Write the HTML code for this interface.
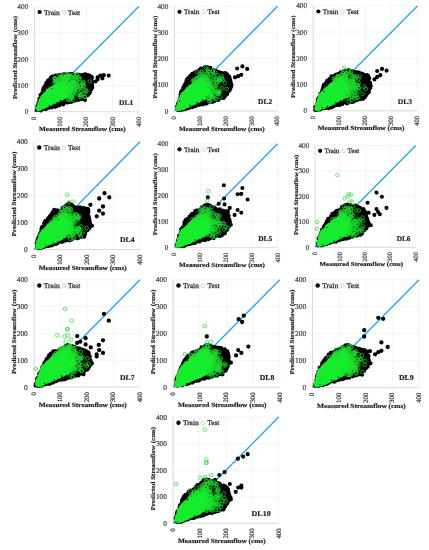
<!DOCTYPE html>
<html lang="en"><head><meta charset="utf-8"><title>Predicted vs measured streamflow</title>
<style>html,body{margin:0;padding:0;background:#fff}svg{display:block;filter:blur(.4px)}text{font-family:"Liberation Serif",serif;text-rendering:geometricPrecision}</style></head>
<body>
<svg width="429" height="550" viewBox="0 0 429 550">
<rect width="429" height="550" fill="#fff"/>
<g>
<marker id="m1" markerWidth="6" markerHeight="6" refX="3" refY="3" markerUnits="userSpaceOnUse"><circle cx="3" cy="3" r="1.78" fill="none" stroke="#1fdc30" stroke-width=".7"/></marker>
<path d="M60.5 6.4V111.7M34.4 85.4H138.7M86.5 6.4V111.7M34.4 59.1H138.7M112.6 6.4V111.7M34.4 32.7H138.7M138.7 6.4V111.7M34.4 6.4H138.7" stroke="#efefef" stroke-width=".7" fill="none"/>
<path d="M34.4 6.4V111.7H138.7" stroke="#cfcfcf" stroke-width=".8" fill="none"/>
<path d="M34.4 111.7L138.7 6.4" stroke="#27abe8" stroke-width="1.4" fill="none"/>
<path d="M37.2 109.8L42.3 109.4L56.7 105.3L71.4 100.6L82.6 98.6L88.3 92.9L91.4 87.3L91.1 77.3L88.2 75.4L72 75L61.7 75.4L52.9 77.1L48.3 81.2L44.9 87.5L41.2 96.4Z" fill="#000"/>
<path d="M36.9 109.9h0M38.2 109.2h0M38.7 108.4h0M38.4 108.5h0M40.7 108.5h0M40.7 110.4h0M40.9 110.4h0M42.2 108.8h0M41.1 108.8h0M42.1 109.2h0M43 109h0M42.5 108.1h0M44.2 108.2h0M44.7 108h0M45.9 107.7h0M45.9 109h0M46 109.1h0M46.5 108.5h0M47.2 106.7h0M48.6 107.7h0M48.2 107.8h0M49.2 107.1h0M50.7 107h0M49.1 107.4h0M51.7 107.5h0M50.6 107.1h0M51.2 105.8h0M50.9 107h0M51.8 106h0M52.3 105.9h0M54.5 106.6h0M53.8 105.5h0M55.5 106.7h0M54.3 104.9h0M55.6 105.6h0M55 105h0M56.9 106.1h0M57.4 105.1h0M56.9 105.6h0M59.3 105.2h0M58.6 103.5h0M58.4 103.2h0M59 103.7h0M59 103.1h0M60.4 102.7h0M61.9 102.7h0M61.5 103.1h0M63.1 104.4h0M62.9 102.1h0M62.9 102.4h0M63.4 101.6h0M64.8 101.7h0M64 102.5h0M66.7 102.6h0M65.7 101.4h0M66.8 102.5h0M66.4 102.5h0M68.7 102.2h0M68.9 100.8h0M68.4 100.2h0M68.5 100.6h0M70.9 100.8h0M71.6 101.8h0M70.1 100h0M70.4 100.8h0M72.8 100.3h0M73.1 99.3h0M73.9 100.8h0M73.5 99.3h0M73.7 100.6h0M74.5 99.6h0M75.8 99h0M74.6 100.6h0M75.4 100.3h0M77.2 99.1h0M76.3 98.2h0M78.3 99.3h0M78.3 100h0M78.3 98.5h0M78.6 99.2h0M79.5 98.1h0M80.2 98.6h0M81.9 98.5h0M81.7 98.6h0M80.9 98.4h0M81.2 99.1h0M82.7 98.6h0M82.9 97.6h0M84.3 96.3h0M83.5 96.3h0M84.5 96.5h0M85.9 95.8h0M85.2 95.7h0M85.5 95.3h0M87 95.4h0M87.5 93.8h0M87.8 94.9h0M86.1 93.8h0M86.7 92.6h0M88.6 93.8h0M88.6 93.1h0M89.3 93.4h0M89.7 91.5h0M90.1 91.9h0M89 90.9h0M88.8 89.9h0M88.8 89.8h0M89 88.9h0M90.4 87.7h0M91.4 89.2h0M90.2 87h0M90.7 86.4h0M92.2 87.6h0M90.4 87.4h0M91.6 84.8h0M91.6 85.3h0M92.2 85.2h0M90.2 84.8h0M91.9 83.7h0M91.2 84.1h0M90.2 82.7h0M90.2 81.3h0M90.3 81.2h0M91.6 80.5h0M90.2 80h0M90.4 78.9h0M91.1 78.4h0M91.9 77.8h0M90.7 78h0M90.6 77.5h0M91.6 76.8h0M90.5 77.1h0M89.4 75.6h0M88.4 77h0M88.1 75.2h0M89 76h0M87.4 75.1h0M86.5 75.4h0M88 76.6h0M85.6 76.6h0M85.4 74.4h0M85.1 75.5h0M84.8 74.4h0M83.2 75.3h0M82.7 75h0M83.3 75.5h0M82.6 75.9h0M81.4 75h0M80.3 75.9h0M79.7 76.2h0M80.3 75.9h0M78.7 75.4h0M79.9 76.1h0M78.6 76.2h0M78.4 74.7h0M76.9 75h0M78 75.4h0M76.7 75.7h0M74.8 76h0M75.2 75.3h0M73.7 75.8h0M73.4 74.7h0M72.9 75.8h0M72.9 74.9h0M73.1 75.8h0M72.4 74.2h0M71.2 75.7h0M71.3 74.1h0M70.2 75.6h0M70.2 74.8h0M69.3 75.2h0M70 74.6h0M69 74.2h0M68.5 76.4h0M66.7 74.7h0M65.8 75.6h0M66.4 76.4h0M66.5 75.4h0M65.3 74.8h0M64.2 74.4h0M64.2 75.4h0M62.7 75.2h0M63.7 74.4h0M63 74.7h0M62 76.5h0M61.1 75.4h0M60.7 75.5h0M59.7 74.8h0M60.6 75.5h0M58.3 75.6h0M57.9 75.9h0M58.7 77.1h0M58.4 77.5h0M57.5 75.5h0M56.2 77.2h0M55.4 75.7h0M54.3 76.8h0M54.5 77.5h0M53.5 77.5h0M54 76.9h0M52.7 76.6h0M52.6 77h0M53.4 77.9h0M51.4 77.2h0M50.7 77.9h0M51.4 79.8h0M50.4 79.2h0M50 79.3h0M49.6 80.9h0M49.7 80.6h0M48.3 80.3h0M48.6 80.9h0M49 82.6h0M47.2 82.2h0M47.7 82.9h0M47.5 83.7h0M48.1 84.7h0M46.2 83h0M47.2 85.4h0M46.9 85.6h0M46.4 84.3h0M45.4 86.9h0M45.3 85.5h0M45.9 87.1h0M44.4 87.1h0M44.8 87.2h0M43.7 87.8h0M45.7 89.1h0M44.3 88.8h0M45.3 90.1h0M42.9 90.2h0M43.6 90.3h0M44.5 90.7h0M43.1 91.3h0M42.4 93h0M42.9 92.2h0M42.2 94.2h0M42 94.2h0M43.4 94.2h0M41.5 94.4h0M42.9 94.5h0M41.1 96.8h0M40.5 95.1h0M42.3 97.6h0M42.3 98.4h0M40.3 98.7h0M39.8 98.9h0M40.5 98.4h0M39.5 98.7h0M41.5 99h0M39.5 100.4h0M40.8 101h0M40 101h0M39.1 101.9h0M38.5 102.5h0M40.1 102.2h0M38.4 104.3h0M39.8 104.9h0M38.6 105.6h0M38.3 105.7h0M38.3 104.4h0M39.5 106.6h0M37.3 106.3h0M39.3 108.2h0M37.5 107.5h0M38.9 107.5h0M38.3 109.7h0M37.8 109h0M97.6 77.3h0M100.3 75.6h0M102.4 78.3h0M103.8 75.2h0M108.7 75.6h0M95.5 81.5h0M97.6 79.4h0M91.9 87.8h0M85 99.9h0" stroke="#000" stroke-width="4.2" stroke-linecap="round" fill="none"/>
<path d="M81.1 93.9L82.9 87.5L78 79.5L71.5 74.8L62.3 75.7L53.2 86.5L66.8 100.2L71.3 98.8Z" fill="#16ec2c" fill-opacity="0.1"/>
<path d="M79.7 89.4L79.8 86.7L78.9 84.1L75.1 77.4L71.5 74.8L62.3 75.7L53.2 86.5L66.8 100.2L71.3 98.8L78.4 95.3Z" fill="#16ec2c" fill-opacity="0.1"/>
<path d="M75.4 96.7L77.3 88.9L77.3 87L76.7 85.3L72.9 78.6L69.9 75L62.3 75.7L53.2 86.5L66.8 100.2L71.3 98.8Z" fill="#16ec2c" fill-opacity="0.1"/>
<path d="M68.7 99.4L72.3 97L72.9 96.3L74.9 87.4L70.7 79.9L67.5 76L65.6 75.4L60.5 77.9L53.2 86.5L66.8 100.2Z" fill="#16ec2c" fill-opacity="0.1"/>
<path d="M37.9 109.2L39.2 108.8L58.5 99.9L66.6 95.6L69 93.9L70.4 88.1L67.2 82.5L65.4 80.3L62 82.1L55.6 86L47.6 91.7L41.5 98.4Z" fill="#16ec2c"/>
<path d="M38.1 109.3h0M38.5 109.1h0M39.1 108h0M40.4 108.7h0M42.1 107.4h0M41.1 107.6h0M42.7 106.7h0M43.4 107h0M44.6 106.6h0M44.8 106h0M45.3 106h0M45.6 105.2h0M47 105.3h0M47.2 105.4h0M47.8 104.8h0M49.6 103.6h0M49.9 104.2h0M50 103.1h0M50.3 103.9h0M52.2 102.7h0M52.6 102.1h0M53.8 101.7h0M54 101.6h0M54 101.3h0M55.1 101.6h0M55.1 100.9h0M56.3 100.4h0M57.4 100.5h0M57.2 100.1h0M58.9 99.2h0M59.4 99.4h0M59.7 99.6h0M60.7 98.5h0M61.8 98.9h0M61.6 98.2h0M62 98.1h0M63.8 97.1h0M64.3 96.2h0M64.5 96.8h0M65.2 96.1h0M66.1 95.3h0M66.7 95.9h0M67.2 95.4h0M68 93.8h0M69.5 93.8h0M69.5 93.6h0M69.4 92.7h0M69.7 91.8h0M70 91.6h0M69.3 90.5h0M69.8 89.2h0M70.3 89.5h0M70.2 88.8h0M70.5 87.3h0M69.6 86.9h0M69.1 86.3h0M69 85.4h0M67.8 85h0M67.7 84.4h0M67.5 82.9h0M66.8 82.3h0M66.3 82.1h0M65.7 81.7h0M66.3 81.5h0M64.8 80.5h0M65.2 80.3h0M64.3 81.6h0M62.7 82.2h0M63.1 82.4h0M62.5 82.6h0M61.4 82.8h0M61.3 82.6h0M59.3 83.6h0M58.7 83.7h0M58.4 83.7h0M57.8 85h0M57.7 84.7h0M56 85.6h0M55.7 86.4h0M55.4 86.8h0M55.6 86.7h0M54.5 86.8h0M53.3 87.7h0M52.6 87.8h0M51.5 89h0M51.9 89.4h0M51.1 89.2h0M50.1 89.2h0M49.6 90.4h0M48.4 90.6h0M47.8 90.7h0M47.5 91.4h0M47.6 92.2h0M47.1 92.6h0M47 92.8h0M45.4 93.9h0M45.4 94.6h0M44.3 95.1h0M44 95.8h0M44.2 96.4h0M43.8 96.1h0M42.5 97h0M42.7 97.1h0M42.1 98.1h0M41.5 99h0M41.4 99.6h0M40.6 100h0M40.8 101.9h0M40.8 102h0M40.3 102.7h0M39.4 103h0M39.4 104.2h0M39.6 105.4h0M39.2 105.5h0M38.8 106.4h0M39.1 106.9h0M37.7 107.9h0M38.5 109h0" stroke="#16ec2c" stroke-width="4.2" stroke-linecap="round" fill="none"/>
<path d="M81.1 91.7h0M49.4 105.6h0M76.3 88.3h0M82.3 89.3h0M69.1 95.5h0M81.2 86.6h0M80.4 85.3h0M79.1 91.3h0M80.1 88.4h0M78.2 86.3h0M81.9 86.7h0M73.8 95.5h0M78.9 92.5h0M70.6 83.8h0M81.7 87h0M71.6 86.3h0M77.2 95.8h0M77.8 93.1h0M81.9 90.7h0M80.3 91.4h0M77.6 88h0M80.8 91.1h0M69.3 78h0M75.3 91.4h0M76.3 80.3h0M51.7 88.5h0M61.5 77.8h0M75.3 96.3h0M60.6 100.5h0M69.3 98.5h0M75.4 84.9h0M74 83.9h0M69.1 98.7h0M72.9 95.2h0M57 102.8h0M67.2 75.9h0M78.3 94.9h0M73 93.1h0M70.1 98.3h0M76.4 78.4h0M73 93h0M72.7 80.1h0M76 90h0M74.3 79.3h0M79.6 84.8h0M69.2 80.8h0M75.5 83.3h0M77.4 86.3h0M73.6 95h0M77.2 81.7h0M73.5 83.2h0M70.4 76.5h0M73.9 81.7h0M71 77.2h0M72 83.9h0M71 84.7h0" stroke="#031c05" stroke-opacity=".8" stroke-width="1.5" stroke-linecap="round" fill="none"/>
<path d="M54.9 78.6 71.7 84.2 76.7 87.4 84.6 97.1 63.9 77.3 71.5 86.9 80 95.6 65.3 79.3 77.7 90 72.1 77.2 75.3 92.5 61.8 78.6 78.6 89.4 72.3 90.7 71.5 76.9 71.6 82.8 66.5 79.3 55.3 83.4 81.7 88.3 67.6 81.8 66.8 77.9 77 84 73.1 82.8 80.2 86.5 63.6 75.3 72 97.8 71.3 86.2 81.1 85.9 70.8 97.4 69.6 99.5 73.8 90.8 80.8 94.9 63.2 75.4 71.6 89.3 80.7 95.1 69.9 85.1 82 84.1 68.2 83.7 74.4 91.1 81.1 90.9 69.2 80.4 74 88.3 74.4 84.7 62.9 79.6 67.1 78.7 83.9 86.1 73.9 81.3 54.6 78.5 83.5 93.5 68.9 80.9 85.4 92.2 64.9 77.8 75.7 80.6 69.8 95.5 76.7 74.8 54.5 82.4 71.8 87.2 66 78.8 70.4 95.2 70.6 91.3 80 79.2 85.8 90.2 77.8 77.3 77.1 84.4 74.9 88.2 65.5 76.9 64.7 77.4 59.3 79.1 71.6 96.5 79.2 77.2 76.8 81.7 83.1 86.7 73.6 86.3 76.1 76.7 61.2 78.2 76.7 84 73.6 86.7 73.3 100.2 76.5 74.6 84.8 96.7 83.3 84 58.8 80.9 74 82.3 69.8 91 55.8 81.1 60.9 77.5 60.1 80.4 73 82.8 83.5 82.4 64 79.2 68.8 76.2 60.4 80.5 73.5 93.1 55.1 80.7 70.4 84.6 72.6 84.7 60.9 76.4 69.2 76.2 69.5 81.3 74.3 83 68.8 77.5 62.6 79.2 70.5 76 69.2 74.8 71.8 97.7 55.1 78.3 68.9 76.2 74.5 86.2 71.4 86.1 69.7 83.1 77.2 85.9 69.2 94.6 70 85.9 56.1 78.9 74.7 76.6 59.9 77.1 64 77.4 73 94.2 56.8 82.4 70.6 99.4 71.6 94.2 70.6 83.4 82.4 82.3 68.1 75.3 76.8 83.7 76.4 87.5 78.9 95 59.3 75.1 67.3 75.1 74.3 84.5 74.9 79.1 72.3 81.7 73.2 75 67.5 76.8 73.6 79.4 66.1 77.6 68.1 99.8 78.7 79 89.8 81.5 86.6 90.9 80.3 97.2" fill="none" stroke="none" marker-start="url(#m1)" marker-mid="url(#m1)" marker-end="url(#m1)"/>
<text x="28.3" y="114.2" font-size="7.3" fill="#444" stroke="#444" stroke-width=".22" text-anchor="end">0</text>
<text x="28.3" y="87.9" font-size="7.3" fill="#444" stroke="#444" stroke-width=".22" text-anchor="end">100</text>
<text x="28.3" y="61.6" font-size="7.3" fill="#444" stroke="#444" stroke-width=".22" text-anchor="end">200</text>
<text x="28.3" y="35.2" font-size="7.3" fill="#444" stroke="#444" stroke-width=".22" text-anchor="end">300</text>
<text x="28.3" y="8.9" font-size="7.3" fill="#444" stroke="#444" stroke-width=".22" text-anchor="end">400</text>
<text transform="translate(36.3 116.7) rotate(-90)" font-size="6.7" fill="#444" stroke="#444" stroke-width=".22" text-anchor="end">0</text>
<text transform="translate(62.4 116.7) rotate(-90)" font-size="6.7" fill="#444" stroke="#444" stroke-width=".22" text-anchor="end">100</text>
<text transform="translate(88.4 116.7) rotate(-90)" font-size="6.7" fill="#444" stroke="#444" stroke-width=".22" text-anchor="end">200</text>
<text transform="translate(114.5 116.7) rotate(-90)" font-size="6.7" fill="#444" stroke="#444" stroke-width=".22" text-anchor="end">300</text>
<text transform="translate(140.6 116.7) rotate(-90)" font-size="6.7" fill="#444" stroke="#444" stroke-width=".22" text-anchor="end">400</text>
<text x="39" y="131.3" font-size="6.3" font-weight="bold" fill="#222" stroke="#222" stroke-width=".18" textLength="86.7" lengthAdjust="spacingAndGlyphs">Measured Streamflow (cms)</text>
<text transform="translate(16.5 99) rotate(-90)" font-size="5.9" font-weight="bold" fill="#222" stroke="#222" stroke-width=".18" textLength="83" lengthAdjust="spacingAndGlyphs">Predicted Streamflow (cms)</text>
<text x="133.3" y="104.7" font-size="7.3" font-weight="bold" fill="#222" stroke="#222" stroke-width=".18" text-anchor="end" textLength="14.3" lengthAdjust="spacingAndGlyphs">DL1</text>
<circle cx="39.6" cy="12" r="2.1" fill="#000"/>
<text x="44" y="14.6" font-size="7" fill="#262626" stroke="#262626" stroke-width=".25" textLength="15.6" lengthAdjust="spacingAndGlyphs">Train</text>
<circle cx="63.8" cy="12.2" r="1.9" fill="none" stroke="#9deaa6" stroke-width=".8"/>
<text x="68" y="14.6" font-size="7" fill="#262626" stroke="#262626" stroke-width=".25" textLength="12" lengthAdjust="spacingAndGlyphs">Test</text>
</g>
<g>
<marker id="m2" markerWidth="6" markerHeight="6" refX="3" refY="3" markerUnits="userSpaceOnUse"><circle cx="3" cy="3" r="1.76" fill="none" stroke="#1fdc30" stroke-width=".7"/></marker>
<path d="M200.2 6.2V111.1M174.4 84.9H277.5M225.9 6.2V111.1M174.4 58.6H277.5M251.7 6.2V111.1M174.4 32.4H277.5M277.5 6.2V111.1M174.4 6.2H277.5" stroke="#efefef" stroke-width=".7" fill="none"/>
<path d="M174.4 6.2V111.1H277.5" stroke="#cfcfcf" stroke-width=".8" fill="none"/>
<path d="M174.4 111.1L277.5 6.2" stroke="#27abe8" stroke-width="1.4" fill="none"/>
<path d="M176.9 109.3L180.3 109.4L190.5 106.9L201.1 103.8L211.5 101.7L222.5 97.7L227.2 92.9L230.9 86.4L229 77.8L228.3 75.5L224 73.8L214.4 71.7L208.3 67.7L204.2 68.2L199.2 71.2L193.1 74.2L188.3 79L183.3 89.1L179.1 101.5Z" fill="#000"/>
<path d="M177.9 110h0M178.1 110.1h0M178.1 109h0M179.7 108.3h0M180.5 108.2h0M180 108.6h0M180.5 110.2h0M181.8 108.6h0M182.1 108.5h0M181.9 109.5h0M183.2 107.4h0M183.7 109.3h0M183.7 109h0M184 107.8h0M184.5 107.8h0M184.6 108.9h0M186.3 108.7h0M186.1 108.6h0M188.3 108h0M188.4 106.8h0M187.9 108h0M188.5 106.8h0M189 107.8h0M190.8 106h0M191 107.1h0M189.8 107.5h0M191.2 106.1h0M192.6 107.1h0M191.8 105.6h0M192.2 105h0M192.9 104.8h0M194.2 105.1h0M194.2 106.2h0M194.7 105.6h0M195.6 106.1h0M195.7 105.9h0M195.6 105.1h0M197.2 104.7h0M198.4 105h0M197.6 104.2h0M199.3 103.3h0M198.3 104.3h0M200.1 103.8h0M200 104.6h0M200.5 103h0M202 102.8h0M203.1 103.2h0M202.7 104.3h0M202.2 102.8h0M202.8 103.2h0M204.3 102.2h0M205.8 103h0M204.4 103.7h0M206.1 103.5h0M206.9 101.9h0M206.3 103.4h0M208.4 102.3h0M208 101.4h0M208.9 101.9h0M208.2 101.5h0M209.2 101.9h0M208.4 101.5h0M211 101.1h0M210.8 100.9h0M212.4 100.8h0M212.4 101.9h0M213 100.6h0M214.1 99.8h0M213.5 99.7h0M214.4 101h0M214.2 100.8h0M214.8 100.7h0M214.7 99.3h0M216.2 99.4h0M215.7 98.7h0M216.4 99.5h0M217.3 99.2h0M218.3 100h0M217.8 99.1h0M218.1 97.8h0M220.8 98.2h0M219.8 98h0M220.5 97.3h0M221.5 96.7h0M222.3 97.4h0M223.2 97.3h0M222.1 97.4h0M223.6 97.9h0M222.9 97.4h0M224.1 96.4h0M225.1 95.9h0M223.7 94.5h0M225.7 93.7h0M225.2 94.6h0M226.5 93.9h0M227.1 94.1h0M226 93.2h0M227.5 92.4h0M226.9 92.4h0M227.6 91.4h0M228.4 91h0M226.9 90.4h0M228.8 90.1h0M227.4 89.8h0M229.4 90.6h0M229.3 90.1h0M230.2 88.9h0M230.1 89.3h0M228.9 88.8h0M230.4 88.4h0M229.3 86.3h0M231 87h0M229.9 85.4h0M230.9 86.4h0M231.5 84.8h0M229.7 83.8h0M231.2 84h0M229.3 82.6h0M230.5 81.8h0M230.2 81.1h0M230.4 81.9h0M230.4 81.4h0M229.2 81.7h0M230.2 80h0M228.5 79.5h0M227.9 79.6h0M229 77.2h0M228.6 78.2h0M229.2 77.2h0M229.5 77.7h0M227.9 76h0M229.1 76.7h0M228.4 76.6h0M226.8 75.9h0M227.1 74.4h0M226 74.4h0M224.6 75.7h0M224.3 75.1h0M225.6 74.5h0M225.3 73.2h0M222.7 73.4h0M224.2 73.8h0M222 74.2h0M221.1 73.6h0M220.8 73.8h0M220.9 74.4h0M221.4 73h0M220.7 73.7h0M220.3 72.8h0M218.6 72h0M217.4 73.2h0M219.2 72.8h0M216.3 72.8h0M216.3 73.2h0M216.5 71.4h0M216.4 71.1h0M215.1 72.6h0M214.2 72.9h0M213.5 72.6h0M213.1 71.6h0M212.5 72.2h0M213.4 70.3h0M211.5 71.4h0M212.9 70.9h0M211.4 70.8h0M210.1 70.6h0M210.8 69.8h0M210.1 69.9h0M210.4 67.8h0M209.2 68.2h0M208 68.2h0M207.7 67.6h0M208.3 68.2h0M208.2 67.7h0M207.5 67.3h0M207.1 67.9h0M205.1 67.1h0M204.3 67.8h0M204.5 69.4h0M203.5 69.7h0M203.5 69.7h0M202.6 69.4h0M203.7 68.8h0M200.9 68.7h0M200.9 70h0M202.1 70.5h0M201.6 71.7h0M200.6 69.7h0M199.8 72h0M199.5 70.2h0M199.7 71.8h0M197 71.3h0M198.7 71.1h0M196.6 73.3h0M196.4 73.7h0M196.8 71.8h0M196.8 72.3h0M194.7 72.6h0M195.3 74.6h0M195.3 74.2h0M193 74.6h0M193.1 75.2h0M192.3 73.8h0M192.9 75.6h0M192.4 75.4h0M191.6 75.9h0M190.6 75.8h0M191.8 75.9h0M190 76.1h0M190 76.9h0M189.2 78.2h0M189.3 78.2h0M189.2 77.9h0M188 78.3h0M188.9 78.9h0M188.2 80.7h0M187.2 79.7h0M188.7 81.2h0M186.7 80.2h0M188.1 81.9h0M187.3 81h0M186.3 81.8h0M186.9 83.3h0M186.7 83.4h0M185 85.2h0M185.2 84.2h0M184.6 85.4h0M184.7 85.3h0M184.3 86h0M184.6 85.9h0M184.7 88h0M183.2 87.8h0M183.3 88.5h0M184.5 88.1h0M184.2 89.2h0M183.4 88.5h0M183.6 90.4h0M181.9 91.3h0M181.9 90.9h0M182.9 91.9h0M183 91.8h0M181.8 93.9h0M181 92.2h0M182.8 94.1h0M182.7 94.5h0M181.4 94.9h0M180.5 94.7h0M182.4 95.6h0M181.7 97.3h0M182 97.2h0M180.8 96.9h0M180.5 97.5h0M180.5 98.5h0M179.8 98.7h0M179.9 99.8h0M180 99.2h0M180.1 101.2h0M179 101.9h0M179.1 101h0M179.7 102.7h0M179.6 101.8h0M178.6 102.6h0M179.4 104h0M178 104.6h0M178.8 105h0M177.8 104.2h0M177.1 106.6h0M178.4 107.3h0M177.2 106.5h0M178.4 107.6h0M177.2 107.2h0M177.9 109.2h0M178 108.8h0M237.1 68.5h0M242.4 66.4h0M247.2 68.9h0M241.3 74.8h0M238.2 76.2h0M235 77.3h0M230.8 87.3h0" stroke="#000" stroke-width="4.2" stroke-linecap="round" fill="none"/>
<path d="M222.5 87.4L222.4 86.3L218 78.3L210.9 71.3L207 68.9L193.7 84L192.2 85.1L207.3 100.5L214.4 97.8L221 94Z" fill="#16ec2c" fill-opacity="0.1"/>
<path d="M219.4 89.6L219.6 87.6L219.1 85.6L215 76.8L210.8 71.2L206.9 69.1L193.7 84L192.2 85.1L207.3 100.5L214.4 97.8L218.2 95.6Z" fill="#16ec2c" fill-opacity="0.1"/>
<path d="M215.3 97.2L217.1 88.7L216.8 86.4L212.9 78L209.5 73.4L207.6 71.9L206.1 71.5L204.8 71.5L193.7 84L192.2 85.1L207.3 100.5L214.4 97.8Z" fill="#16ec2c" fill-opacity="0.1"/>
<path d="M212.2 97.2L213.1 95.7L214.6 88.4L214.4 87.1L210.7 79.3L207.3 74.7L205.6 73.9L202.1 74.5L193.7 84L192.2 85.1L207.3 100.5L208.6 100Z" fill="#16ec2c" fill-opacity="0.1"/>
<path d="M180 109L198.3 101.1L204.9 97.4L209 94.2L210.2 88.3L207 81.6L204.7 78.5L201.5 79L192.2 85.4L187.3 89.9L182.1 95.1L181 97.3L177.4 108.9Z" fill="#16ec2c"/>
<path d="M188.6 105.5h0M189 104.5h0M191.1 104h0M191.8 103.8h0M191.9 103.7h0M192.7 103.5h0M193.3 102.8h0M193.5 102.8h0M194.2 102.9h0M195.5 102.4h0M195.3 102.2h0M196.7 101.2h0M198.3 100.8h0M198.4 100.7h0M198.4 100.9h0M199.7 99.7h0M199.9 99.8h0M201.4 99h0M201.7 99.3h0M202.3 98.6h0M203.1 98.8h0M203.9 98h0M204.3 97.2h0M205.1 97.6h0M206 96.3h0M206.1 95.7h0M207 96.1h0M207.3 95h0M207.4 94.4h0M208.6 94.3h0M209.2 93.6h0M208.9 92.3h0M209.2 92.3h0M209.9 91.2h0M209.8 90.6h0M209.3 90.3h0M209.5 89.1h0M209.7 87.9h0M209.3 87h0M209 86.2h0M209.3 86.4h0M208.5 85h0M208.1 84.7h0M208.3 83.3h0M208.3 83.5h0M207.2 82.2h0M206.7 82.1h0M206.1 81.1h0M206.3 80.3h0M205.3 79.8h0M205.2 79.5h0M204.6 79h0M203.9 79.1h0M202.7 78.8h0M202.1 79.3h0M201.6 79.7h0M200.8 79.2h0M199.6 80.6h0M199.5 80.3h0M198.3 81.4h0M197.7 81.8h0M198 81.9h0M197.4 81.8h0M195.9 82.2h0M195.2 82.5h0M194.5 83.2h0M194.2 84.4h0M193.9 85.2h0M193.5 84.6h0M192.6 85.8h0M191.5 86.2h0M191.4 86.8h0M191.1 86.7h0M189.9 87.2h0M189 88.5h0M188.5 88.9h0M188.1 88.6h0M187.4 89.8h0M186.7 90.4h0M187 90.6h0M186.1 91.3h0M185.4 91.9h0M185.7 92.1h0M184.8 92.5h0M183.6 93.9h0M183.3 93.9h0M182.7 94.6h0M182.4 94.4h0M181.5 96.4h0M181.6 96.7h0M181.6 96.7h0M181.1 98.4h0M180.5 99.1h0M179.9 99.3h0M180.2 99.7h0M180.4 100.5h0M179.3 101.5h0M179.4 102.2h0M179.2 103.5h0M179.6 103.2h0M179.2 104.4h0M178.2 105.8h0M178.6 105.7h0M178.3 106.8h0M177.4 107.8h0M177.2 108.6h0M177.6 109.2h0M178.5 108.5h0M178.9 108.3h0M180 108.5h0M180.8 108.8h0M181.4 107.7h0M181.9 107.5h0M183.6 108h0M183.1 107.6h0M185 106.7h0M184.7 107.1h0M186 106.1h0M187.3 105.8h0M187.1 106.2h0M188.3 105.4h0" stroke="#16ec2c" stroke-width="4.2" stroke-linecap="round" fill="none"/>
<path d="M209.5 71.1h0M189.9 105.2h0M222.4 87h0M208.7 70.4h0M215.4 92.9h0M206.3 73.2h0M208.1 74h0M213.2 98h0M215.6 94h0M213.3 89.5h0M213.6 81.3h0M212.3 95.6h0M207.3 99.4h0M218.6 85.5h0M216.5 95.4h0M214.3 92.1h0M212.8 85.8h0M206.5 78.2h0M206.9 80.6h0M208.3 81.5h0M213 89.5h0M214.1 84.4h0M219 90.5h0M204.3 73.7h0M209.9 74.1h0M208.6 72.1h0M202.3 99.8h0M213.7 78.9h0M204.1 75.6h0M215.2 97.1h0M208 96.1h0M206.3 96.7h0M214.1 74.5h0M208.4 97.2h0M217.7 91.4h0M212.5 79.4h0M213.4 96.3h0M211.3 97.2h0M220 89.2h0M217.4 82.6h0M212.6 84.4h0M214.6 80.7h0M212.6 90.7h0M196.7 102.4h0M220.6 90.5h0M204.1 100.5h0M211.9 97.4h0M212.6 81.5h0M207.8 100h0M209.4 74.4h0M213.4 77.3h0M219.4 94.9h0M179.6 101h0M211 90.1h0M209.8 77.4h0M207.4 69.8h0M217.5 83.1h0M209.9 97h0M216 86.1h0M210.9 97.4h0M220.9 88.1h0M208.1 71.7h0M219.7 89.8h0" stroke="#031c05" stroke-opacity=".8" stroke-width="1.5" stroke-linecap="round" fill="none"/>
<path d="M211.1 94.5 201.9 71.7 216.1 98.9 212 95.6 216.8 82.5 219.1 78.3 198.8 77.2 208.8 98.6 203.5 74.2 203.4 76.2 216.5 82.8 210.5 74.6 212.4 97 213.6 73.5 207.7 75.4 224.8 82.8 211.2 93 218.9 80.2 220 92.4 196.6 79.2 210.5 80.8 210.9 87.5 221.8 76.2 207.6 78.3 219.3 79.7 205.5 97.6 196.9 79.1 211.8 87.6 213 79.7 199.3 77.1 205.6 67.7 213.5 97.1 217.5 94.2 200.5 76.3 209.3 95.5 213.7 90 216.5 79.5 219.5 80.1 209.4 98.9 192.6 81.3 215.1 91.3 223.3 79.8 200.5 79.6 218.3 93.1 217 93.3 222.1 78.3 217.7 75.3 208.5 71.7 215.1 88.2 209.3 101 212.8 92.5 218.7 91.8 209 82.4 201.3 72.3 207.9 80.5 210.9 94.8 207.2 73.5 204.6 77.3 196.7 78.1 216 85.5 212.7 70.9 218.5 81.3 214.3 78.6 211.2 95.6 209.7 101.3 207.9 71.1 194.3 80.4 218.9 91 221.3 79.6 214.5 86.2 207.8 80.4 213.8 91.3 214.7 98.3 201.6 78.8 222.2 88 193.7 79.6 208.5 76.5 205.6 78.2 200.1 74.2 209 85.3 218.6 93 211.1 86.4 213.6 82.6 210.1 85 207 80.7 211.3 99.4 206.1 77.7 215.4 72.2 194.3 81.6 204.6 76.4 217.6 91.8 207.6 69.2 217.2 93.8 197.5 78 212.9 71.7 210.6 96.4 210.7 82.9 213.8 76.4 211.7 89.6 200.1 76.3 197.1 71.8 202.4 77.5 205.9 79.8 226.6 88.8 220.3 97.2" fill="none" stroke="none" marker-start="url(#m2)" marker-mid="url(#m2)" marker-end="url(#m2)"/>
<text x="168.3" y="113.6" font-size="7.2" fill="#444" stroke="#444" stroke-width=".22" text-anchor="end">0</text>
<text x="168.3" y="87.4" font-size="7.2" fill="#444" stroke="#444" stroke-width=".22" text-anchor="end">100</text>
<text x="168.3" y="61.1" font-size="7.2" fill="#444" stroke="#444" stroke-width=".22" text-anchor="end">200</text>
<text x="168.3" y="34.9" font-size="7.2" fill="#444" stroke="#444" stroke-width=".22" text-anchor="end">300</text>
<text x="168.3" y="8.7" font-size="7.2" fill="#444" stroke="#444" stroke-width=".22" text-anchor="end">400</text>
<text transform="translate(176.3 116.1) rotate(-90)" font-size="6.6" fill="#444" stroke="#444" stroke-width=".22" text-anchor="end">0</text>
<text transform="translate(202.1 116.1) rotate(-90)" font-size="6.6" fill="#444" stroke="#444" stroke-width=".22" text-anchor="end">100</text>
<text transform="translate(227.8 116.1) rotate(-90)" font-size="6.6" fill="#444" stroke="#444" stroke-width=".22" text-anchor="end">200</text>
<text transform="translate(253.6 116.1) rotate(-90)" font-size="6.6" fill="#444" stroke="#444" stroke-width=".22" text-anchor="end">300</text>
<text transform="translate(279.4 116.1) rotate(-90)" font-size="6.6" fill="#444" stroke="#444" stroke-width=".22" text-anchor="end">400</text>
<text x="178.9" y="130.6" font-size="6.3" font-weight="bold" fill="#222" stroke="#222" stroke-width=".18" textLength="85.7" lengthAdjust="spacingAndGlyphs">Measured Streamflow (cms)</text>
<text transform="translate(156.7 98.4) rotate(-90)" font-size="5.9" font-weight="bold" fill="#222" stroke="#222" stroke-width=".18" textLength="82.7" lengthAdjust="spacingAndGlyphs">Predicted Streamflow (cms)</text>
<text x="272.2" y="104.1" font-size="7.2" font-weight="bold" fill="#222" stroke="#222" stroke-width=".18" text-anchor="end" textLength="14.1" lengthAdjust="spacingAndGlyphs">DL2</text>
<circle cx="179.5" cy="11.8" r="2.1" fill="#000"/>
<text x="183.9" y="14.4" font-size="6.9" fill="#262626" stroke="#262626" stroke-width=".25" textLength="15.4" lengthAdjust="spacingAndGlyphs">Train</text>
<circle cx="203.5" cy="12" r="1.8" fill="none" stroke="#9deaa6" stroke-width=".8"/>
<text x="207.6" y="14.4" font-size="6.9" fill="#262626" stroke="#262626" stroke-width=".25" textLength="11.9" lengthAdjust="spacingAndGlyphs">Test</text>
</g>
<g>
<marker id="m3" markerWidth="6" markerHeight="6" refX="3" refY="3" markerUnits="userSpaceOnUse"><circle cx="3" cy="3" r="1.78" fill="none" stroke="#1fdc30" stroke-width=".7"/></marker>
<path d="M339.2 5.9V110.8M313.2 84.6H417.4M365.3 5.9V110.8M313.2 58.4H417.4M391.3 5.9V110.8M313.2 32.1H417.4M417.4 5.9V110.8M313.2 5.9H417.4" stroke="#efefef" stroke-width=".7" fill="none"/>
<path d="M313.2 5.9V110.8H417.4" stroke="#cfcfcf" stroke-width=".8" fill="none"/>
<path d="M313.2 110.8L417.4 5.9" stroke="#27abe8" stroke-width="1.4" fill="none"/>
<path d="M315.7 109.1L319.3 109.4L329.5 106.9L340 103.8L353.6 100.6L363.4 97.7L368.2 91L370 86.5L369 79.7L368.2 76.5L365 74.9L347.8 70.8L343.2 71.7L338.1 74.4L331.1 77.4L326.3 83.2L321.2 92.3Z" fill="#000"/>
<path d="M315.3 109.9h0M317.5 110h0M318.5 109.3h0M318.2 108.4h0M318.8 109h0M318.9 108.6h0M320.2 109.4h0M320.9 108.8h0M320.4 108.5h0M322.1 108.2h0M321.1 107.4h0M322.9 108h0M323.5 107.9h0M324.1 107.3h0M323.8 107.5h0M324.3 108h0M323.7 108.2h0M325.9 107.4h0M324.9 106.7h0M326.3 107.6h0M326.8 106.2h0M328.3 108.1h0M328.1 107.1h0M329.3 107.3h0M329.7 107.7h0M330.1 106.3h0M331 107.5h0M330.5 106.4h0M330.3 106.3h0M332.2 105.7h0M332.8 105.6h0M333.7 105.4h0M333.2 106.4h0M333.1 105.2h0M333.6 106.3h0M335.3 104.9h0M334.8 105.2h0M336.7 105.1h0M335.3 104.1h0M337.1 103.8h0M336.9 104.5h0M338.1 104.7h0M337.6 104.4h0M339.6 104.9h0M340.2 103.1h0M339 104.3h0M340.4 103.4h0M340.4 103.8h0M340.6 102.6h0M341.9 102.5h0M342.4 104h0M342.6 102.1h0M343.4 102.2h0M345.2 101.6h0M343.6 102.1h0M345 102.1h0M347 103.3h0M346.7 101.2h0M347.9 102.8h0M346.5 102.8h0M348.7 100.7h0M347.5 102.1h0M348.8 100.3h0M350.8 101.6h0M349.6 102h0M350.6 100.4h0M351.3 100.8h0M352.1 102h0M353 100.5h0M353.4 101.7h0M353.9 101.2h0M355.1 100.4h0M353.1 100.3h0M353.6 101.2h0M356.3 98.8h0M356.5 100.1h0M356.5 98.6h0M357.7 99.3h0M358.2 99.2h0M357.9 99.6h0M358.3 99.5h0M359.4 98.5h0M360.8 99.2h0M359.7 98.3h0M359.6 98.4h0M360.3 99h0M362.8 98.5h0M362.9 97.6h0M363.3 98.6h0M362.7 97.5h0M363.3 97.1h0M365 97h0M365.3 95.3h0M364.3 95.9h0M365.4 94.9h0M364.9 95.5h0M365.8 95.6h0M364.6 95h0M366.4 94.3h0M366.3 94.1h0M367.2 93.5h0M366.8 92h0M367.1 92.7h0M368.7 92.2h0M368.3 90.4h0M369.1 90h0M367.8 89.3h0M369 89.1h0M368.1 87.7h0M369.1 87.7h0M368.8 87.3h0M369.1 87.8h0M369.4 85.7h0M369.9 86.4h0M369.8 86.7h0M370.7 85.8h0M370.5 85.7h0M368.3 84.4h0M369.6 84.5h0M370.1 82.9h0M368.2 81.8h0M369.2 83.2h0M368.6 81.4h0M368.7 81.3h0M367.9 80.8h0M368 78.7h0M367.7 80.3h0M367.8 78.5h0M367.6 78.2h0M369.2 78.2h0M368.4 77.2h0M368 76.4h0M367 76.1h0M368.1 75.8h0M366.5 75.3h0M366.9 75h0M365.2 75.6h0M364.2 75.1h0M365.2 75.5h0M363.7 74.5h0M364.6 75.6h0M362.7 74.5h0M362.7 75.6h0M362 73.7h0M360.9 74.1h0M361.7 74.2h0M360.8 74.5h0M359.5 74.1h0M360.7 74.2h0M358.6 72.6h0M359 72.5h0M358.5 73.3h0M357 74.2h0M356.2 73.1h0M356.1 73.6h0M356.3 72.2h0M355.3 72.9h0M355.6 72.5h0M355.1 72.6h0M354 72.6h0M351.8 71.8h0M353 71.5h0M351.4 71.3h0M351.3 71.8h0M351.3 71.2h0M349.6 70.8h0M349.2 71.4h0M350.1 72.3h0M347.9 72.3h0M348.8 71.8h0M348.6 70.2h0M348 72.1h0M346.3 71.3h0M345.7 70.8h0M345.2 70.6h0M344.4 71.3h0M344.7 71.6h0M343.9 71.3h0M343 73h0M342 72.9h0M343.3 72.4h0M342.9 72.4h0M341.4 74h0M340.5 73.6h0M340.8 72.3h0M340.6 72.9h0M338.8 73.8h0M340.1 73.8h0M338.9 74.3h0M338.1 74.8h0M338.3 74.5h0M337.7 75.4h0M337.2 76h0M336.8 74.6h0M335.8 74.8h0M335.6 75.4h0M333.9 76.2h0M335.1 75.9h0M333.9 76.8h0M333.8 77.4h0M331.5 76.3h0M331.2 77.5h0M331.4 78.1h0M331.6 77.7h0M331.9 79.1h0M329.5 79.5h0M329.4 79.1h0M330.5 79.6h0M330.5 80.8h0M330.1 80.9h0M329.5 81.6h0M327.3 80.8h0M327.6 80.7h0M326.9 81.8h0M328 81.4h0M325.9 83.2h0M325.9 83.5h0M326.6 82.9h0M326.8 84.3h0M325.5 85.3h0M325.6 84.8h0M324.1 84.5h0M324.8 85.6h0M323.7 85.4h0M325 86.3h0M323.3 86.9h0M324.5 87.9h0M324.7 88.6h0M322.7 89h0M324.2 88.1h0M324.1 89.3h0M322.8 89.4h0M322.1 91.2h0M322.5 90.6h0M322.8 90.9h0M321.9 93.2h0M321.9 92.3h0M321.9 92.2h0M320.5 94.3h0M320.6 93.5h0M321 95h0M321.4 94.7h0M321 95.3h0M319.6 97.5h0M321 97.7h0M319.4 97.3h0M320.3 97.6h0M318.7 98.5h0M318.5 98.1h0M319.3 99.4h0M319.6 99.9h0M317.7 100.1h0M317.8 101.4h0M318.6 100.9h0M319 102.8h0M319 102.4h0M318.4 102.7h0M317.8 104.2h0M318.5 104.2h0M317.1 104.3h0M317.7 104.8h0M317.9 104.7h0M318 105.1h0M316.4 106.1h0M316.5 107.1h0M315.3 106.9h0M316.7 107.8h0M315.9 109.1h0M377.2 71h0M382 68.9h0M386.6 70.6h0M380.3 75.2h0M377.2 76.9h0M374.5 79.4h0M370.3 87.8h0" stroke="#000" stroke-width="4.2" stroke-linecap="round" fill="none"/>
<path d="M361.6 89.9L361.7 86.2L357 78.4L350.1 72.5L345.2 70.8L335.7 81.6L331.2 84.8L347.2 100.9L353.3 98.8L360.1 94Z" fill="#16ec2c" fill-opacity="0.1"/>
<path d="M358.7 89.3L358.8 87.3L358.4 85.2L353.8 75.8L350.1 72.5L345.2 70.8L335.7 81.6L331.2 84.8L347.2 100.9L353.3 98.8L357.3 96Z" fill="#16ec2c" fill-opacity="0.1"/>
<path d="M352.9 98.8L354 97.8L354.6 96.4L356.3 88.4L356.2 86.5L351.8 77.3L348 72.4L346.7 71.6L344.9 71.1L335.7 81.6L331.2 84.8L347.2 100.9Z" fill="#16ec2c" fill-opacity="0.1"/>
<path d="M351.4 96.9L352.3 95.4L353.8 88.3L353.7 87L349.9 79L346.5 74.4L345 73.6L342.5 73.9L335.7 81.6L331.2 84.8L346.8 100.5Z" fill="#16ec2c" fill-opacity="0.1"/>
<path d="M318.3 108.9L337.3 100.7L344 97.1L348.2 93.9L349.4 88L346.2 81.3L343.8 78.2L340.5 78.7L331.1 85.1L326.2 89.6L321 94.8L320.4 95.9L316.2 108.8Z" fill="#16ec2c"/>
<path d="M318.3 108.7h0M319.1 108.7h0M319.6 107.8h0M320.5 107.5h0M321.4 107h0M322 107.4h0M322.7 106.9h0M323.8 106.9h0M323.8 105.8h0M325.5 106h0M325.6 105.8h0M327.1 104.8h0M327.4 105.4h0M328.3 104.1h0M328.6 104.5h0M328.9 103.7h0M330.6 104.1h0M330.3 103.7h0M331.7 103.1h0M331.7 102.4h0M333.2 102.8h0M334.1 102.6h0M334 102h0M335.4 101.2h0M335.7 101h0M336.4 100.5h0M337.7 100h0M337.9 99.7h0M338.5 99.9h0M339.3 99.4h0M339.9 98.9h0M341.3 99.1h0M341 98.2h0M342.4 97.7h0M342.5 97.7h0M343.3 97h0M344.2 96.6h0M344.8 96.2h0M345.9 96.1h0M346.2 95.1h0M347.1 94.8h0M347.1 94.3h0M348.3 93.8h0M348.4 92.6h0M348.9 92.6h0M348.7 91.5h0M349 91.3h0M348.6 90.3h0M348.8 89.9h0M349.4 88.8h0M348.9 88.2h0M348.9 86.7h0M347.9 86.9h0M348.1 85.4h0M347.1 84.6h0M347.7 84.3h0M347.6 83.4h0M346.3 83.5h0M346.4 81.6h0M345.7 82.2h0M345.7 81h0M344.8 80.3h0M345.2 79h0M343.9 78.8h0M343.4 78.8h0M343.5 78.8h0M341.4 78.7h0M341.4 78.8h0M341.1 78.8h0M340.1 79.1h0M339.8 79.9h0M338 80h0M337.4 80.6h0M337.3 80.8h0M337.3 80.8h0M336.1 82.1h0M336.3 82.4h0M334.2 83.1h0M334.5 83.3h0M334.1 83.5h0M333.2 83.6h0M331.8 85.1h0M331.4 84.9h0M331.1 84.9h0M330.5 86.3h0M329.5 86.4h0M329.7 86.8h0M328.8 87.9h0M327.9 88h0M328 88.5h0M326.9 89.1h0M326 89.4h0M325.8 90.9h0M324.9 90.6h0M324.7 91.2h0M323.7 92.6h0M323.5 92.6h0M323.4 92.5h0M322.5 93.2h0M322.2 94.8h0M321 94.4h0M320.9 96h0M320.6 96h0M319.8 96.5h0M319.7 97.2h0M320.2 98.4h0M319.5 98.3h0M319.1 99.8h0M318.7 100.6h0M318.4 101.5h0M318.3 102.2h0M318.7 102.6h0M318 103.8h0M317.4 103.9h0M317 105.1h0M317.3 105.9h0M316.7 106.3h0M317.4 106.8h0M316.9 108.1h0M316.3 108.8h0M317.4 109.3h0M318.1 109.1h0" stroke="#16ec2c" stroke-width="4.2" stroke-linecap="round" fill="none"/>
<path d="M348.4 78.2h0M357.6 89.5h0M354.7 93.2h0M350.5 91.9h0M349.5 80h0M335.5 102.7h0M352.5 76.2h0M359.9 86.2h0M347.1 80.2h0M354.4 88.7h0M354.5 86.6h0M350.6 74.4h0M358.2 83.5h0M348.6 98.1h0M349.5 73.2h0M353.1 79.8h0M358.2 90h0M324.2 91.4h0M359.5 82.7h0M349.7 74.3h0M349.1 76.9h0M345.8 100h0M351.7 87.8h0M352.2 85.8h0M351.8 96.6h0M348.1 78.5h0M356.4 84.1h0M327.2 106.2h0M355 88.4h0M351.5 77h0M348.2 72.9h0M344.8 101.7h0M354 95.8h0M355.2 87.1h0M353.7 81.3h0M322.4 107.8h0M351.9 91.5h0M354 84.5h0M355.1 94h0M349.3 82.8h0M351.1 95.7h0M349.6 72.4h0M352.9 85.9h0M357.3 90.2h0M352.3 95.7h0M347.4 79.7h0M346.7 71.7h0M343.9 73.1h0M345.7 76.8h0M340.6 100.4h0M350 97.8h0M360.4 84.3h0M351 77h0M353.3 96.8h0M354.6 85.9h0M327.4 107h0M359.3 88.1h0M347.6 95h0M350.6 75.1h0M347.4 100.8h0M354 83h0M347.3 73.5h0M353.8 84.9h0M353.2 82.8h0M351.6 93h0" stroke="#031c05" stroke-opacity=".8" stroke-width="1.5" stroke-linecap="round" fill="none"/>
<path d="M346 73.3 356.7 76.4 349.3 84.9 357.8 97.7 342 75 349.1 86.2 354.1 84.6 334.8 80.2 358 87.2 345.5 77.9 364.4 86.7 346.7 81.4 354.9 92.6 347.3 81.8 345 70.7 348 95.4 348.9 101.6 358.6 78.8 346.4 74.6 346.5 80.9 354.4 98.3 353.1 81 349.5 91.8 352.9 85.2 333.9 78.7 345.7 76.1 335 78.4 350 88.4 352.3 89.3 354.9 77.2 352.9 86.3 348.7 70.8 354.7 87.8 358.1 85.5 353.8 75.8 353.6 87.6 351.9 79.1 352.4 87.8 350.8 81.5 346.5 81 357.1 85.1 348.3 85.6 353.8 82.1 355.6 88.3 352.7 82.8 355.6 89.4 346.3 73.8 358.5 91.3 351.8 81 356.3 97.7 347.3 79.3 353.3 84.6 350.9 74.7 337.6 79 338.5 76.2 342.6 73.5 342.9 72.5 362.6 93.9 350.3 72.4 351.7 100 358.7 82.9 351.6 95.7 357 95.8 337.4 77.1 350.4 92.3 347.4 80.5 356.9 85 351.3 71.4 348.3 95.9 348.5 79.9 336.2 81.3 354.4 91.4 338.2 77.5 354.6 94.7 355.2 78.5 350.7 90.6 336.4 79.8 341 75.2 353.8 85.3 352.1 81.5 344.6 77.7 337.8 76.1 359 87.9 334.8 81.2 353.8 87.5 347.6 94.9 345.5 78.6 351.5 97.5 359.8 76.4 351.9 76.1 345.7 75.9 352.5 94.5 342.6 77.6 338.3 77.4 344.2 67.8 365.6 88.8" fill="none" stroke="none" marker-start="url(#m3)" marker-mid="url(#m3)" marker-end="url(#m3)"/>
<text x="307.1" y="113.3" font-size="7.3" fill="#444" stroke="#444" stroke-width=".22" text-anchor="end">0</text>
<text x="307.1" y="87.1" font-size="7.3" fill="#444" stroke="#444" stroke-width=".22" text-anchor="end">100</text>
<text x="307.1" y="60.8" font-size="7.3" fill="#444" stroke="#444" stroke-width=".22" text-anchor="end">200</text>
<text x="307.1" y="34.6" font-size="7.3" fill="#444" stroke="#444" stroke-width=".22" text-anchor="end">300</text>
<text x="307.1" y="8.4" font-size="7.3" fill="#444" stroke="#444" stroke-width=".22" text-anchor="end">400</text>
<text transform="translate(315.1 115.8) rotate(-90)" font-size="6.7" fill="#444" stroke="#444" stroke-width=".22" text-anchor="end">0</text>
<text transform="translate(341.1 115.8) rotate(-90)" font-size="6.7" fill="#444" stroke="#444" stroke-width=".22" text-anchor="end">100</text>
<text transform="translate(367.2 115.8) rotate(-90)" font-size="6.7" fill="#444" stroke="#444" stroke-width=".22" text-anchor="end">200</text>
<text transform="translate(393.2 115.8) rotate(-90)" font-size="6.7" fill="#444" stroke="#444" stroke-width=".22" text-anchor="end">300</text>
<text transform="translate(419.3 115.8) rotate(-90)" font-size="6.7" fill="#444" stroke="#444" stroke-width=".22" text-anchor="end">400</text>
<text x="317.8" y="130.3" font-size="6.3" font-weight="bold" fill="#222" stroke="#222" stroke-width=".18" textLength="86.6" lengthAdjust="spacingAndGlyphs">Measured Streamflow (cms)</text>
<text transform="translate(295.3 98.1) rotate(-90)" font-size="5.9" font-weight="bold" fill="#222" stroke="#222" stroke-width=".18" textLength="82.7" lengthAdjust="spacingAndGlyphs">Predicted Streamflow (cms)</text>
<text x="412" y="103.8" font-size="7.3" font-weight="bold" fill="#222" stroke="#222" stroke-width=".18" text-anchor="end" textLength="14.3" lengthAdjust="spacingAndGlyphs">DL3</text>
<circle cx="318.4" cy="11.5" r="2.1" fill="#000"/>
<text x="322.8" y="14.1" font-size="7" fill="#262626" stroke="#262626" stroke-width=".25" textLength="15.6" lengthAdjust="spacingAndGlyphs">Train</text>
<circle cx="342.6" cy="11.7" r="1.8" fill="none" stroke="#9deaa6" stroke-width=".8"/>
<text x="346.8" y="14.1" font-size="7" fill="#262626" stroke="#262626" stroke-width=".25" textLength="12" lengthAdjust="spacingAndGlyphs">Test</text>
</g>
<g>
<marker id="m4" markerWidth="6" markerHeight="6" refX="3" refY="3" markerUnits="userSpaceOnUse"><circle cx="3" cy="3" r="1.81" fill="none" stroke="#1fdc30" stroke-width=".7"/></marker>
<path d="M60.5 141.8V249.5M34 222.6H140M87 141.8V249.5M34 195.7H140M113.5 141.8V249.5M34 168.7H140M140 141.8V249.5M34 141.8H140" stroke="#efefef" stroke-width=".7" fill="none"/>
<path d="M34 141.8V249.5H140" stroke="#cfcfcf" stroke-width=".8" fill="none"/>
<path d="M34 249.5L140 141.8" stroke="#27abe8" stroke-width="1.4" fill="none"/>
<path d="M36.6 247.5L40.2 247.3L50.5 244.9L71.4 238.6L83.4 235.6L88.1 229L89.9 224.6L87.3 215.6L87.7 210.2L84.1 208.8L74.5 207.7L68.9 204L65.9 206.2L61.3 211.3L60.1 211.5L54.3 210.7L52.5 214.5L46.2 221.3L42.3 228.2Z" fill="#000"/>
<path d="M38.3 248.2h0M38.6 247.1h0M37.3 246.4h0M37.7 246.8h0M38.6 248h0M39.7 247.9h0M40.6 247.2h0M41.5 247.7h0M42.3 247.1h0M41.3 245.6h0M43.1 245.8h0M42.9 246.1h0M44.3 246.5h0M44.3 246.8h0M45.6 246h0M44.2 245.5h0M45.4 245.9h0M46.4 244.7h0M46.7 244.5h0M47.8 246h0M46.9 245.9h0M47.5 245h0M49.3 244.4h0M49.7 245.6h0M50.5 245.1h0M49.7 244.4h0M51.3 244h0M51.7 245.4h0M52.5 243.8h0M52.7 244.4h0M53 243.2h0M53.2 244.3h0M53.1 244h0M55.4 242.3h0M55.8 243.9h0M55.5 242.9h0M54.9 242.4h0M56.1 242.3h0M57.6 243h0M57.2 241.4h0M58 241.8h0M58.5 241.4h0M58.2 241.4h0M59.3 241h0M59.4 241.5h0M59.6 241.1h0M61.7 240.9h0M62.6 241.6h0M61.6 241.8h0M62.4 241.7h0M63.2 239.7h0M63.1 240h0M65.6 240h0M64.6 240.5h0M66.2 240.3h0M66.7 240.1h0M66.9 239.8h0M66.6 238.9h0M68.4 239.8h0M67 239.7h0M69.7 240.2h0M69.5 240.3h0M70.7 238.6h0M70.6 239.4h0M71.5 238.2h0M71.5 239.5h0M71.8 239.2h0M72.8 237.3h0M72.1 238.4h0M73.4 237.1h0M73.1 237.9h0M75.4 237h0M75.4 237.8h0M76 236.5h0M75.1 237.2h0M77.1 238.1h0M77.9 238.1h0M78.2 237.9h0M77.8 237h0M78.3 236.5h0M78 237.2h0M79.9 236.2h0M79.7 235.2h0M80.1 235.4h0M81.1 236.9h0M81.6 235.7h0M81.4 235.2h0M83.8 235.8h0M84.1 236.1h0M83.2 234.1h0M83.3 235.2h0M84.9 234.2h0M83.3 234h0M84.7 234.1h0M84.9 233.1h0M84.6 232.8h0M84.9 231.4h0M87.1 230.4h0M86.2 229.9h0M87 229.6h0M86.7 229.6h0M86.6 228.7h0M87.2 228.9h0M89 228.6h0M87.8 229.4h0M87.3 227.3h0M88.1 227h0M89.3 225.7h0M89.6 227.3h0M88.5 226.1h0M89.7 224.9h0M90.4 224.6h0M90.5 225.1h0M89.6 223.4h0M88.4 223h0M88.2 223.3h0M88.3 223.3h0M88.9 221.8h0M89.8 221.9h0M88 221.4h0M89.3 219.2h0M87.3 218.8h0M87 218.9h0M88.4 217.6h0M88.8 217.5h0M88.1 217.1h0M88.5 216.2h0M86.5 216.6h0M88.2 216.5h0M87.7 215.9h0M87.4 214.1h0M88.1 215.5h0M87.1 213.8h0M87.4 212.6h0M87.2 213.2h0M88.4 212.1h0M88 211h0M88.1 211.8h0M88.2 209.7h0M87.3 211.2h0M87.5 209h0M86.5 210.3h0M84.7 210.5h0M86.3 208.9h0M84.8 208.6h0M83.7 209.1h0M83.9 208.4h0M83.8 208.3h0M82.1 208.2h0M82.8 208.4h0M81 209.8h0M80 207.5h0M80.7 208.1h0M79.7 208.2h0M79.6 208.9h0M79.9 207.9h0M77.6 208.7h0M77.9 208.1h0M76.2 209.3h0M76.3 209h0M76.9 207.9h0M75.9 207.6h0M76.3 209h0M75.2 208.3h0M73.2 207.9h0M74.3 207.7h0M73.8 208.2h0M73.7 206.6h0M72.3 206.3h0M71.6 207.1h0M71.2 204.8h0M71.5 204.6h0M70.4 206.3h0M68.9 205.5h0M68.6 205.6h0M69.9 205h0M69 203.6h0M67.8 204.5h0M66.8 205.8h0M66 205.6h0M67.2 204.9h0M65.8 206.3h0M67 205.2h0M65.1 207.3h0M66.2 206.8h0M65 206.6h0M64.8 208.1h0M63.6 208.4h0M63.8 209.3h0M62.5 208.2h0M63.5 209h0M62.4 211h0M63 209.6h0M61.6 211.1h0M62.6 212h0M62.3 212.7h0M59.6 211.5h0M60.6 211.8h0M58.9 211.6h0M58.8 211.5h0M58.9 212h0M57.3 212.3h0M57.1 210.7h0M57.2 210.3h0M56.6 211.6h0M56.6 210.6h0M54.5 211.8h0M55.5 211h0M54.2 210h0M54.9 210.2h0M52.9 212.6h0M52.5 212.4h0M52.8 212.8h0M54.1 213.5h0M53.7 213.8h0M52.6 214.7h0M52.2 214.9h0M52.4 214.2h0M52.6 214.8h0M51.1 215.1h0M51.7 216.7h0M49.8 216.4h0M50.2 216.6h0M50.3 217.4h0M49.1 217.7h0M49.7 219.6h0M48.2 218.4h0M48.1 220h0M47.8 219.5h0M47.9 221.3h0M48.4 220.3h0M47.1 221.1h0M45.5 220.9h0M47 221h0M45 221.9h0M46.2 222.7h0M45.8 223h0M44.9 224.4h0M44.2 223.4h0M45.4 224.8h0M44.2 225.8h0M43.3 226.7h0M45.1 225.3h0M42.4 227h0M43.9 227.2h0M42.5 228.2h0M42 227.6h0M42 227.7h0M41.4 229.3h0M42.1 230.1h0M42.6 228.8h0M42.5 229.4h0M42.2 231.6h0M42.4 230.5h0M42.1 232.5h0M41.4 232.1h0M40.8 232.6h0M41.3 233.3h0M40.1 234.1h0M40.2 234.1h0M40 234.5h0M40.3 236.4h0M39.5 235.4h0M40.9 236.9h0M40.7 237h0M38.7 237.2h0M38.4 238.1h0M38.7 238.5h0M40.1 238.8h0M38 238.8h0M37.7 239.1h0M38.6 241.7h0M37.6 240.4h0M39.4 242.4h0M37.9 242h0M37.6 242h0M38.9 244.2h0M37.4 244.5h0M36.8 243.1h0M38.2 244.9h0M37.3 245.4h0M37.1 246.8h0M38.2 246.9h0M37.9 247.2h0M104.5 193.2h0M109.3 197.4h0M99.2 198.5h0M90.4 204.8h0M103 206.5h0M99.2 210.7h0M103 213.6h0M96.7 216.3h0M91.9 225.8h0M84.1 236.7h0" stroke="#000" stroke-width="4.3" stroke-linecap="round" fill="none"/>
<path d="M81.1 232L83.7 226.8L77.9 216.4L71.2 210.6L65.3 209.8L61.7 214.1L55.8 220L52.1 222.7L68.1 238.9L74.3 236.8Z" fill="#16ec2c" fill-opacity="0.1"/>
<path d="M81.1 227L81.2 224.9L80.8 222.8L77.7 216.1L71.2 210.6L65.3 209.8L61.7 214.1L55.8 220L52.1 222.7L68.1 238.9L74.3 236.8L79.9 232.8Z" fill="#16ec2c" fill-opacity="0.1"/>
<path d="M76.7 234.9L78.6 226L78.2 223.3L74.3 214.9L71 210.6L65.3 209.8L61.7 214.1L55.8 220L52.1 222.7L68.1 238.9L74.3 236.8Z" fill="#16ec2c" fill-opacity="0.1"/>
<path d="M73.6 234.9L74.6 233.4L76.1 225.9L76 224.6L72.1 216.2L68.5 211.4L66.9 210.6L64.3 211L61.7 214.1L55.8 220L52.1 222.7L68.1 238.9L68.8 238.7Z" fill="#16ec2c" fill-opacity="0.1"/>
<path d="M41.4 246.6L59 239L66 235.2L70.3 231.8L71.6 225.7L68.2 218.5L65.8 215.3L62.4 215.9L52.6 222.6L47.5 227.3L42.1 232.7L40.2 236.2L37.1 247L40.2 246.9Z" fill="#16ec2c"/>
<path d="M48.8 243.3h0M49.7 242.5h0M51.1 242.6h0M51.5 242.4h0M51.9 241.5h0M53.4 242h0M53.3 241.4h0M53.9 241.4h0M54.8 240.1h0M55.8 240.9h0M55.7 240.1h0M56.8 239.5h0M57.9 239h0M58.6 239.2h0M59.5 239.1h0M59.7 238.9h0M60.7 238.1h0M61.1 238.1h0M61.7 236.8h0M63.4 236.2h0M62.9 236.1h0M64.5 236.4h0M65.4 235.5h0M65.1 235.6h0M65.7 235h0M67.5 234.4h0M67.6 233.8h0M67.7 233.5h0M68.4 233h0M69.2 232.2h0M69.3 232.1h0M70.6 231.2h0M70.2 231h0M70.1 230.2h0M71.1 229.3h0M71 228.2h0M70.5 227.5h0M70.8 227h0M71.5 226.2h0M71.4 225.2h0M70.4 224.1h0M71.3 224.7h0M70.7 223.3h0M70.3 222h0M69.6 222.5h0M69.1 220.5h0M69.5 220.3h0M69 220h0M68.2 218.5h0M68.1 218.3h0M67.8 218.2h0M66.9 217.2h0M66.1 216.1h0M65.5 216.1h0M65.2 215.1h0M64.9 215.8h0M64.2 215.8h0M63.1 216.2h0M62.5 215.5h0M61.1 217.1h0M60.7 217h0M60.4 217.1h0M59.7 218h0M59.5 218.5h0M58.5 218.4h0M57.6 219.4h0M57.2 220.1h0M56.8 220.4h0M56.3 220.1h0M55.9 220.8h0M54.4 221.2h0M54.7 221.3h0M53.5 222.3h0M52.1 223h0M51.8 223.8h0M51.8 223.2h0M51.3 224.4h0M50.5 224.3h0M49 225.2h0M49.3 225.3h0M48.2 226.1h0M47.7 227.2h0M47.4 227.7h0M47.5 227.7h0M46.4 228.5h0M45.4 229.7h0M45.1 230.1h0M43.9 230.6h0M44 230.8h0M43.1 231.4h0M43.7 232.1h0M42.9 232.4h0M41.6 233.5h0M42.2 233.6h0M41.6 234.1h0M41.2 234.9h0M40.2 235.7h0M40.6 236.6h0M40.2 237.6h0M40.3 237.8h0M39.9 238.6h0M39.6 238.9h0M39.2 240.2h0M39.3 240.6h0M38.4 241.5h0M38 242.5h0M38.2 242.6h0M37.6 244.4h0M38 244.5h0M37.4 245.3h0M37.6 246.1h0M37.4 247.3h0M38.9 246.4h0M39 246.7h0M39.6 246.4h0M40.2 247.4h0M41.8 246.8h0M42.6 246.3h0M42.9 246.2h0M43.1 246h0M44 244.9h0M45 244.5h0M45.6 245h0M46.3 244.3h0M47.1 244h0M47.4 243.3h0M48 243.7h0" stroke="#16ec2c" stroke-width="4.3" stroke-linecap="round" fill="none"/>
<path d="M73.2 212.7h0M53.6 242.8h0M80.4 225.2h0M68.8 212.2h0M73.3 218h0M76.5 225.1h0M45.8 245.3h0M62.9 213.4h0M78.9 221.2h0M80 227.2h0M57.6 219.7h0M78.7 222.2h0M76.7 232.3h0M72.3 213.2h0M67.2 234.9h0M82.1 230h0M81.4 228h0M79 225.7h0M75.1 216.9h0M74.4 223.6h0M68.5 212.4h0M77.1 221.8h0M71.6 213.1h0M72.7 212.7h0M72.6 215.1h0M73.4 223.2h0M79.9 225.3h0M72.4 231.9h0M68.9 213.3h0M76.8 233.7h0M73.6 212.8h0M76 232.9h0M79 218.9h0M75.5 217h0M57.1 219h0M67.2 216.3h0M66.2 236.9h0M69 235.6h0M76.3 229h0M59.3 241.9h0M75.3 230.2h0M77.9 231.2h0M78.3 225.2h0M74.3 218.1h0M57.7 218.2h0M69.5 235.4h0M81.1 229.5h0M80.8 224.7h0M75.5 227.3h0M78.7 233.3h0M74.3 233.4h0M75.2 221.2h0M73.6 217.3h0M74.3 216.9h0M73.3 225.5h0" stroke="#031c05" stroke-opacity=".8" stroke-width="1.5" stroke-linecap="round" fill="none"/>
<path d="M64.9 208.3 76.2 215 67.1 216.6 68.7 235.9 64.2 212.9 77.2 218 68.3 209 76.7 229.7 70.3 210.1 68.9 214.4 67 209 83.3 231.7 67.1 210.5 75.9 228.5 69.6 220.3 72.1 222.7 71.6 234.8 61.5 215 74.7 232.5 81.2 226.5 55.8 219.2 77.1 231.4 78.6 218.3 73.1 234.4 58.5 218.2 64 215 72.5 218.6 74 237.3 79.1 233.8 56.2 219 75.3 231.5 78.3 217.2 66.2 214.7 73.1 221.6 65 206.8 71.8 214.8 71.8 232.8 72 217.9 70.3 238.8 73.7 218.3 70 216.3 76.8 215.1 72.5 217.6 79.5 229.4 71.7 229.3 63.5 211.1 61.4 212.3 77.1 219.9 73.7 223.8 60.6 216.7 58.9 215.4 78.6 229.1 70.9 208.9 72.4 213 78.4 228.2 60.4 212.7 76.1 214.5 66.9 213.8 69.5 208 74.1 228.7 59.1 216 62.8 211.6 60.8 215.5 72.7 230.3 54.5 218.4 69.4 217.2 78.8 228.2 72.5 227.6 73.7 219 55.5 216.8 74.3 222.2 79.9 234.9 79.8 232.3 73.6 238.6 74.8 217.3 74.6 231.3 69.9 234.9 79.5 216 78.2 217.4 77.4 217.5 69.3 217.9 51.4 221.8 61.8 209.5 69.1 215.4 78.2 230 72.5 233.7 80.8 236.5 54.3 220.1 67.3 194.7 73.4 201.6 68.8 202.3 86.6 227.9" fill="none" stroke="none" marker-start="url(#m4)" marker-mid="url(#m4)" marker-end="url(#m4)"/>
<text x="27.8" y="252" font-size="7.4" fill="#444" stroke="#444" stroke-width=".22" text-anchor="end">0</text>
<text x="27.8" y="225.1" font-size="7.4" fill="#444" stroke="#444" stroke-width=".22" text-anchor="end">100</text>
<text x="27.8" y="198.2" font-size="7.4" fill="#444" stroke="#444" stroke-width=".22" text-anchor="end">200</text>
<text x="27.8" y="171.3" font-size="7.4" fill="#444" stroke="#444" stroke-width=".22" text-anchor="end">300</text>
<text x="27.8" y="144.3" font-size="7.4" fill="#444" stroke="#444" stroke-width=".22" text-anchor="end">400</text>
<text transform="translate(35.9 254.6) rotate(-90)" font-size="6.8" fill="#444" stroke="#444" stroke-width=".22" text-anchor="end">0</text>
<text transform="translate(62.4 254.6) rotate(-90)" font-size="6.8" fill="#444" stroke="#444" stroke-width=".22" text-anchor="end">100</text>
<text transform="translate(88.9 254.6) rotate(-90)" font-size="6.8" fill="#444" stroke="#444" stroke-width=".22" text-anchor="end">200</text>
<text transform="translate(115.4 254.6) rotate(-90)" font-size="6.8" fill="#444" stroke="#444" stroke-width=".22" text-anchor="end">300</text>
<text transform="translate(141.9 254.6) rotate(-90)" font-size="6.8" fill="#444" stroke="#444" stroke-width=".22" text-anchor="end">400</text>
<text x="38.7" y="269.5" font-size="6.4" font-weight="bold" fill="#222" stroke="#222" stroke-width=".18" textLength="88.1" lengthAdjust="spacingAndGlyphs">Measured Streamflow (cms)</text>
<text transform="translate(15.8 236.5) rotate(-90)" font-size="6" font-weight="bold" fill="#222" stroke="#222" stroke-width=".18" textLength="84.9" lengthAdjust="spacingAndGlyphs">Predicted Streamflow (cms)</text>
<text x="134.5" y="242.3" font-size="7.4" font-weight="bold" fill="#222" stroke="#222" stroke-width=".18" text-anchor="end" textLength="14.5" lengthAdjust="spacingAndGlyphs">DL4</text>
<circle cx="39.3" cy="147.5" r="2.2" fill="#000"/>
<text x="43.8" y="150.2" font-size="7.1" fill="#262626" stroke="#262626" stroke-width=".25" textLength="15.9" lengthAdjust="spacingAndGlyphs">Train</text>
<circle cx="63.9" cy="147.7" r="1.9" fill="none" stroke="#9deaa6" stroke-width=".8"/>
<text x="68.1" y="150.2" font-size="7.1" fill="#262626" stroke="#262626" stroke-width=".25" textLength="12.2" lengthAdjust="spacingAndGlyphs">Test</text>
</g>
<g>
<marker id="m5" markerWidth="6" markerHeight="6" refX="3" refY="3" markerUnits="userSpaceOnUse"><circle cx="3" cy="3" r="1.77" fill="none" stroke="#1fdc30" stroke-width=".7"/></marker>
<path d="M200.2 143.8V247.7M174.4 221.7H277.6M226 143.8V247.7M174.4 195.8H277.6M251.8 143.8V247.7M174.4 169.8H277.6M277.6 143.8V247.7M174.4 143.8H277.6" stroke="#efefef" stroke-width=".7" fill="none"/>
<path d="M174.4 143.8V247.7H277.6" stroke="#cfcfcf" stroke-width=".8" fill="none"/>
<path d="M174.4 247.7L277.6 143.8" stroke="#27abe8" stroke-width="1.4" fill="none"/>
<path d="M176.9 245.9L180.3 245.9L222.4 234.6L227.2 228.9L229.9 224.4L228 217.7L227.9 212.4L223 210.8L214.4 208.6L208.6 204.8L204.5 206.4L199.2 210.2L192.2 214.2L186.3 221.1L182.2 229.2Z" fill="#000"/>
<path d="M176.6 244.8h0M178.5 244.9h0M178.1 246.2h0M178.5 245.8h0M180.7 245.8h0M181.3 246.2h0M181.4 244.7h0M180.7 245.4h0M181 245.4h0M183.5 246.2h0M183.6 244.8h0M182.7 245.4h0M183 244.1h0M185.5 244.5h0M185.8 245h0M185.6 245.1h0M184.8 245h0M185.7 245.1h0M186.9 243h0M188.1 244.3h0M188.2 243.3h0M189.8 242.6h0M189.6 243.9h0M189 243h0M189.1 243.3h0M190.5 243.7h0M192 243.5h0M190.7 243.1h0M193.4 242.5h0M192.5 241.6h0M192.6 242.3h0M194.2 243h0M193.9 240.9h0M194.8 242.9h0M195.5 242.5h0M195.6 241h0M197.3 241.2h0M196 242.1h0M198.2 240.6h0M197.8 240.8h0M197.7 239.7h0M198 240h0M200.1 240.6h0M199.5 241.5h0M201.7 239.8h0M200.7 240.4h0M201.9 238.9h0M201.6 239.9h0M202.3 239.7h0M203 239.2h0M204.1 239.9h0M203.5 238.9h0M205.4 240h0M205.7 239.2h0M205.9 238.6h0M205.7 239.8h0M206.7 238.5h0M208 238h0M207.6 238.3h0M208.8 239.1h0M209.1 237.7h0M209.4 238.6h0M209.4 238.3h0M211.1 237.3h0M210.7 238h0M211.4 237.4h0M213.3 237.3h0M213.8 238.1h0M213 237.2h0M212.9 236.9h0M214.6 235.8h0M215.6 236.3h0M214.6 236.6h0M215.7 236.2h0M215.9 235.3h0M216.1 236h0M218.2 235h0M217.5 234.8h0M218.4 235.6h0M219.5 234.3h0M220.8 234.6h0M220.5 234.1h0M220.2 235.9h0M220.9 233.9h0M221.9 235.3h0M223.1 233.7h0M221.9 233.7h0M221.8 234.4h0M224.4 233.5h0M223 232.2h0M224.3 232.8h0M225 233h0M224.2 231.7h0M225 230.6h0M225.7 229.9h0M224.8 230.1h0M225.4 229.9h0M225.4 229.9h0M226.7 229.9h0M227.4 229.6h0M227.8 227.9h0M226.8 228.8h0M227.6 228.2h0M228.3 227.1h0M228.4 227.1h0M229.8 224.9h0M229.1 226.2h0M228.3 225.8h0M229 225.4h0M228.8 224.1h0M228.3 223.5h0M228.5 223.8h0M229.2 222.1h0M230 221.7h0M228.2 221.2h0M229.7 222h0M229.2 221.5h0M229.3 219.2h0M228.8 219.5h0M228.6 219.8h0M226.9 218.8h0M228.7 218.8h0M226.9 216.8h0M228.2 216h0M227 215.6h0M228.7 215.8h0M227.6 214.3h0M226.8 213.7h0M227.8 213.1h0M227.7 212.9h0M227.5 213.9h0M227.8 212h0M227.8 211.4h0M226.1 211.4h0M225.7 212.2h0M226.1 212.1h0M224 211.1h0M223.6 211h0M223.6 210.8h0M223.7 212h0M223 211.2h0M221.7 211.6h0M222.4 211.3h0M221.6 210.5h0M220.6 211.5h0M219.4 210.7h0M220 209.3h0M219 210.2h0M218.8 211h0M217.3 209.5h0M216.7 210.3h0M215.7 208.7h0M216.4 210.5h0M216 209.4h0M215.3 209.6h0M215.5 209.4h0M213.7 207.8h0M214.5 209h0M213.2 207.2h0M212.2 207.5h0M212.7 208.5h0M212.5 208.3h0M212.4 207.5h0M210.3 206.8h0M211.1 207.4h0M209.2 205.9h0M210.2 205.8h0M209.2 205.3h0M209 205.5h0M207.9 205.4h0M207.9 205.3h0M208.7 205h0M206.5 205.9h0M206.4 204.8h0M206 206.3h0M204.3 205.9h0M205 207.3h0M204.8 207.8h0M204.3 206.2h0M203 207.5h0M203.3 207.3h0M202.6 208.7h0M202.4 208.3h0M201.7 207.4h0M201.2 209.2h0M201.4 208.3h0M201.6 208.6h0M200.3 209.7h0M200.3 210.5h0M199.1 211.6h0M198.8 211.2h0M197.2 211.8h0M198.1 210.6h0M196.3 210.5h0M197.2 212.5h0M195.3 211h0M196.4 212h0M195 212.6h0M195.3 213.3h0M195.1 213.7h0M194.2 213.7h0M194.8 214.7h0M193.5 214.5h0M192.1 213.9h0M193 214.5h0M191 216.3h0M191.5 214.5h0M191.2 214.8h0M190.1 217.2h0M189.3 217.5h0M189.3 216.8h0M190.5 217.3h0M190.2 219h0M189.7 217.3h0M189.4 218.4h0M187.8 220h0M188.1 219.7h0M186.7 219.4h0M187.6 221.4h0M185.8 221.4h0M185.6 220.1h0M186.6 221.9h0M186.3 221.2h0M186.7 221.5h0M184.5 223.3h0M184.4 222.4h0M186.1 223.2h0M184.3 224.2h0M184.4 226h0M185.1 226h0M184.5 226.1h0M182.7 227.3h0M183.8 228.2h0M183.7 227.8h0M183.3 228.5h0M182.5 229.2h0M181.9 228.5h0M182.9 229.4h0M183.2 230.4h0M181.1 229.3h0M181.7 229.9h0M182.6 231.9h0M180.6 232.9h0M181.9 233.1h0M180.6 233.2h0M180.7 232.6h0M181.4 233.7h0M181.3 234.8h0M181.4 234.4h0M179.3 236.1h0M179 235.9h0M180.8 236.6h0M180.3 238h0M179.3 236.8h0M178.9 238.6h0M180.1 238.1h0M180.1 239.5h0M179.7 240.3h0M179.4 239.1h0M178.2 239.9h0M179.6 241.4h0M177.7 241.2h0M179 241.8h0M178.9 243h0M178.8 242.5h0M178 243.7h0M178.3 244.9h0M178 244.2h0M176.9 245h0M207.8 197.4h0M242.4 188h0M237.6 194.3h0M241.3 193.9h0M247.6 199.5h0M224.1 198.5h0M218.7 203.7h0M224.5 204.4h0M229.8 207.9h0M237.6 210h0M241.3 212.8h0M234.6 214.9h0M230.8 224.7h0M223.9 185.2h0" stroke="#000" stroke-width="4.1" stroke-linecap="round" fill="none"/>
<path d="M222.3 227L222.4 223.4L218 215.3L211 209.3L207 206.9L201.6 213.1L193.9 220.8L192.2 222L207.9 237.8L214.4 235.8L221.1 230.9L221.8 229.6Z" fill="#16ec2c" fill-opacity="0.1"/>
<path d="M219.4 226.4L219.6 224.4L219.1 222.4L215 213.6L213.2 211.1L211 209.3L207 206.9L201.6 213.1L193.9 220.8L192.2 222L207.9 237.8L214.4 235.8L218 233.2Z" fill="#16ec2c" fill-opacity="0.1"/>
<path d="M213.8 235.9L214.8 234.8L215.4 233.4L217.1 225.5L217 223.7L212.6 214.5L208.8 209.6L207.6 208.8L205.7 208.4L201.6 213.1L193.9 220.8L192.2 222L207.9 237.8Z" fill="#16ec2c" fill-opacity="0.1"/>
<path d="M212.2 233.9L213.1 232.5L214.6 225.4L214.5 224.1L210.8 216.2L207.4 211.7L205.9 210.9L203.2 211.2L194 220.7L192.2 222L207.6 237.5Z" fill="#16ec2c" fill-opacity="0.1"/>
<path d="M180.1 245.5L198.3 237.7L204.9 234.1L209 230.9L210.2 225.2L207 218.4L204.7 215.4L201.5 215.9L192.2 222.3L187.3 226.7L182.1 231.9L181.1 233.7L177.4 245.5Z" fill="#16ec2c"/>
<path d="M180 245.4h0M181.7 245h0M182.5 244.7h0M182.2 244.8h0M184.2 243.4h0M183.6 243.4h0M184.1 243.6h0M185.5 243.4h0M186.5 243.1h0M186.9 242.7h0M187.8 242h0M188.7 241.8h0M189.4 242.1h0M189.6 240.6h0M190.9 241.3h0M191.1 240.2h0M192.5 239.8h0M193.2 239.5h0M193.7 240.1h0M194.2 239.4h0M195.5 239.2h0M195 238.9h0M196.7 238.2h0M196.3 238.6h0M196.8 238h0M199.2 237.2h0M198.5 236.8h0M199.9 237.2h0M200.9 236h0M201.5 235.6h0M201.7 235h0M202.2 235.8h0M203.2 235.4h0M204 234.3h0M205 233.8h0M204.9 233.6h0M206.2 233.2h0M206.1 232.8h0M206.7 232.7h0M207.1 232.4h0M208.6 232h0M208.4 231.1h0M209.3 230.1h0M209.1 229.7h0M209.3 229h0M210.1 227.4h0M209.9 227.8h0M209.6 226.9h0M210.1 225.6h0M209.9 224.4h0M209.5 224.7h0M209 222.8h0M208.2 222.2h0M208.9 221.5h0M207.7 220.8h0M208.3 220.2h0M207 219.3h0M206.8 219.7h0M207.3 218.4h0M205.9 218.3h0M206.2 217.7h0M205.4 217h0M205.4 215.6h0M204.6 215.6h0M204 215.8h0M203.5 216.1h0M201.4 215.8h0M201.1 215.8h0M201.3 215.8h0M200.2 216.5h0M199.8 216.9h0M199.1 217.9h0M197.9 218.1h0M197.2 218.6h0M196.4 219.2h0M196.1 219.2h0M195 219.6h0M195.1 219.8h0M193.9 220.5h0M194.1 220.9h0M192.8 221.5h0M191.9 222.7h0M191.4 223h0M191.6 223h0M190.6 224.2h0M190.2 223.8h0M189.2 224.7h0M189.3 225.6h0M188.4 226.3h0M187.9 226.8h0M187.1 227h0M187.2 227.1h0M186.9 227.3h0M185.8 228.7h0M185.3 228.8h0M184.2 230.4h0M183.3 230.9h0M183.1 230.4h0M182.4 230.9h0M182.5 232.4h0M182.3 233.3h0M181.1 233h0M181 234.7h0M181.5 234.2h0M180.9 235.6h0M180.7 236h0M180.7 237.6h0M180 237.3h0M179.4 238.2h0M179 239.2h0M179.2 240.7h0M179.5 240.4h0M178.8 241.6h0M178.1 242.2h0M178.9 242.4h0M178 243.6h0M177.3 244.6h0M177.7 245.7h0M178.4 245.6h0M178.8 245.1h0M180 245.6h0" stroke="#16ec2c" stroke-width="4.1" stroke-linecap="round" fill="none"/>
<path d="M217 229.2h0M219.7 225.7h0M220.6 226.2h0M218.5 218.7h0M219.8 231.2h0M212.7 216.6h0M208.5 212.1h0M200.7 214.1h0M209.5 236.8h0M221.2 224.7h0M217.4 232.7h0M199.3 239.4h0M219.1 218.8h0M213.1 229.7h0M220.6 221h0M216 218.2h0M221.9 226.1h0M217.2 218h0M195.3 240h0M212.5 218.5h0M211.7 231.4h0M210.1 233.3h0M221 228.5h0M219.9 226h0M209.6 215h0M212.1 228.3h0M216 223.3h0M211 216.6h0M217 223.9h0M214.8 214h0M217.2 232.5h0M214.9 219.2h0M217.3 218.1h0M214.6 234h0M211.7 226.8h0M216.9 224.2h0M216.4 220.9h0M216 232.4h0M205.8 214.1h0M216.1 222.9h0M216.9 229.1h0M217.6 216.5h0M216.6 214.5h0M216.9 221.2h0M219.6 225.6h0M214.2 223.7h0M214.4 225h0M211.8 211.6h0M208.5 213.6h0M210.6 231.5h0M211.1 215.2h0M217.9 225.8h0M216.5 218.8h0M218.3 231.9h0M210.2 209.5h0M209.2 210.5h0M214.1 234.1h0M214.1 213.7h0M209.3 208.8h0" stroke="#031c05" stroke-opacity=".8" stroke-width="1.5" stroke-linecap="round" fill="none"/>
<path d="M219.4 232.8 209.4 219.1 213 233.4 209.4 217.2 208.1 219.6 217 215.6 215.6 236.6 205.8 216.4 201.5 212.5 203.3 211.1 199.1 217.4 209.8 209.5 213.7 213.3 215.4 229.2 211 228.6 219.7 215.8 213.1 221.6 198.5 217.3 212.4 236.1 206.3 234.9 196.4 217.1 212 224.3 214.9 232.8 198.8 216.2 202.8 209.7 223.9 229.5 219 222.4 210.7 224.2 214.7 224.3 201.4 215.8 213.8 229.2 219.7 226.4 213.1 236.9 207.6 211.8 224.2 223.7 204.9 212 192.4 219.2 205.4 208.9 209.3 211.5 216.2 220.2 213.6 222.5 207.8 209.6 217.1 225.7 212.5 218.4 207.1 217.6 207.9 210.6 219.5 226.2 210.3 223.1 212.3 218.6 204.7 208.2 218.4 231.1 217.5 220.6 212.5 212.9 201.1 209.7 208.8 214.5 211.8 229.8 209.7 234.7 207.1 215 211.2 219.7 206.7 214.1 202.5 213.4 213.3 223.3 211 221.5 210.3 214.2 211.8 227.5 198.4 216 213.6 222.3 200.3 214.8 206.4 215.3 227.9 228 202.2 207.5 209.6 231 208.4 215.8 194.3 219.6 218.2 216.7 217.7 219.9 214.5 221.8 219 224.2 217.2 215.1 220.6 223.7 211.6 231.8 218.2 223 212.8 228.2 200 211.2 214.8 229 223 223.3 211.6 207.3 208.4 191.1 207.3 200.6 225.6 226.8" fill="none" stroke="none" marker-start="url(#m5)" marker-mid="url(#m5)" marker-end="url(#m5)"/>
<text x="168.4" y="250.2" font-size="7.2" fill="#444" stroke="#444" stroke-width=".22" text-anchor="end">0</text>
<text x="168.4" y="224.2" font-size="7.2" fill="#444" stroke="#444" stroke-width=".22" text-anchor="end">100</text>
<text x="168.4" y="198.2" font-size="7.2" fill="#444" stroke="#444" stroke-width=".22" text-anchor="end">200</text>
<text x="168.4" y="172.2" font-size="7.2" fill="#444" stroke="#444" stroke-width=".22" text-anchor="end">300</text>
<text x="168.4" y="146.3" font-size="7.2" fill="#444" stroke="#444" stroke-width=".22" text-anchor="end">400</text>
<text transform="translate(176.3 252.6) rotate(-90)" font-size="6.6" fill="#444" stroke="#444" stroke-width=".22" text-anchor="end">0</text>
<text transform="translate(202.1 252.6) rotate(-90)" font-size="6.6" fill="#444" stroke="#444" stroke-width=".22" text-anchor="end">100</text>
<text transform="translate(227.9 252.6) rotate(-90)" font-size="6.6" fill="#444" stroke="#444" stroke-width=".22" text-anchor="end">200</text>
<text transform="translate(253.7 252.6) rotate(-90)" font-size="6.6" fill="#444" stroke="#444" stroke-width=".22" text-anchor="end">300</text>
<text transform="translate(279.5 252.6) rotate(-90)" font-size="6.6" fill="#444" stroke="#444" stroke-width=".22" text-anchor="end">400</text>
<text x="179" y="267" font-size="6.2" font-weight="bold" fill="#222" stroke="#222" stroke-width=".18" textLength="85.8" lengthAdjust="spacingAndGlyphs">Measured Streamflow (cms)</text>
<text transform="translate(156.7 235.2) rotate(-90)" font-size="5.8" font-weight="bold" fill="#222" stroke="#222" stroke-width=".18" textLength="81.9" lengthAdjust="spacingAndGlyphs">Predicted Streamflow (cms)</text>
<text x="272.3" y="240.8" font-size="7.2" font-weight="bold" fill="#222" stroke="#222" stroke-width=".18" text-anchor="end" textLength="14.1" lengthAdjust="spacingAndGlyphs">DL5</text>
<circle cx="179.5" cy="149.3" r="2.1" fill="#000"/>
<text x="183.9" y="151.9" font-size="6.9" fill="#262626" stroke="#262626" stroke-width=".25" textLength="15.4" lengthAdjust="spacingAndGlyphs">Train</text>
<circle cx="203.5" cy="149.5" r="1.8" fill="none" stroke="#9deaa6" stroke-width=".8"/>
<text x="207.6" y="151.9" font-size="6.9" fill="#262626" stroke="#262626" stroke-width=".25" textLength="11.9" lengthAdjust="spacingAndGlyphs">Test</text>
</g>
<g>
<marker id="m6" markerWidth="6" markerHeight="6" refX="3" refY="3" markerUnits="userSpaceOnUse"><circle cx="3" cy="3" r="1.72" fill="none" stroke="#1fdc30" stroke-width=".7"/></marker>
<path d="M340.2 145.4V247.3M315.1 221.8H415.7M365.4 145.4V247.3M315.1 196.4H415.7M390.6 145.4V247.3M315.1 170.9H415.7M415.7 145.4V247.3M315.1 145.4H415.7" stroke="#efefef" stroke-width=".7" fill="none"/>
<path d="M315.1 145.4V247.3H415.7" stroke="#cfcfcf" stroke-width=".8" fill="none"/>
<path d="M315.1 247.3L415.7 145.4" stroke="#27abe8" stroke-width="1.4" fill="none"/>
<path d="M317.7 245.3L321.1 244.9L341.9 238.7L352.5 236.6L361.2 233.7L364.2 228.8L368.7 225.1L366.9 219.9L365 212.1L361.4 209.5L355.5 206.5L349.7 205L344.4 205.5L340.4 210L334.2 213.2L327.2 221.1L323.2 229.2L319.7 238.5Z" fill="#000"/>
<path d="M319 244.7h0M319.9 244.1h0M319.7 243.9h0M320.5 244.2h0M321.2 245.4h0M320.2 244.2h0M322.5 244.2h0M321.3 244h0M323.1 243.5h0M323.7 244.8h0M324.6 244.1h0M323.7 244.7h0M325.9 243.9h0M325 244.1h0M325.8 242.4h0M326.1 244.2h0M326.9 242.3h0M326.6 244h0M327.3 242.3h0M328.5 242.5h0M329.6 242.1h0M329.1 241.8h0M328.8 243.1h0M330.2 242.8h0M331 242.5h0M332 240.7h0M331.8 241.3h0M332.9 241.2h0M333.7 241.3h0M333.2 241.5h0M333.7 241.4h0M334.6 241.1h0M336 241.7h0M336.1 239.4h0M335.4 241.3h0M337 240.3h0M337.4 239.3h0M337.3 240h0M339.2 240.2h0M339.5 239.7h0M338.2 239.1h0M338.9 239.5h0M340.5 239.5h0M340.4 239.2h0M341.6 239.2h0M342.7 239.3h0M342.3 238.5h0M344 238.6h0M344 238.5h0M344.1 238.1h0M344.4 238.8h0M346.2 238.2h0M346 236.7h0M346 237.6h0M347.1 238.3h0M346.8 238.6h0M347.7 237.6h0M348 236.8h0M347.4 237.4h0M349.5 237.4h0M349.4 237.7h0M350.9 236.2h0M351 236.2h0M350.9 236.6h0M351.4 236.5h0M351.4 236.3h0M352.4 237h0M352.1 235.2h0M353.3 235.4h0M354.2 234.8h0M356 235.6h0M356 234.5h0M356.4 235.7h0M356.3 234h0M356.9 234.1h0M357.1 234.1h0M358.1 234.6h0M358.5 234.1h0M357.9 235.1h0M360.1 234.6h0M360.8 234.6h0M361 232.9h0M362.3 233h0M360.8 233.2h0M360.7 231.4h0M361 231.7h0M361.7 231h0M362.4 230.1h0M362.3 230.1h0M362.5 230.7h0M364.3 230.1h0M364.4 228.8h0M364.6 229.9h0M365.1 228.5h0M363.6 229h0M365.6 227.6h0M366.4 228.2h0M365.3 227h0M366.4 227.7h0M367.7 225.9h0M367 226.3h0M367.3 225.6h0M367.7 224.8h0M369.3 224.1h0M367.5 223.2h0M367.3 225.3h0M367 223h0M368.3 223.6h0M367.3 222.8h0M366.8 221.6h0M368.1 221.9h0M367.1 220.6h0M367.5 219.9h0M367.1 218.8h0M365.9 219.3h0M365.8 218.1h0M366.4 217.1h0M365.1 217h0M366.2 216.5h0M364.9 216.9h0M366 216.6h0M365.7 214.7h0M365.5 213.7h0M364.3 214h0M366 214.3h0M364.6 214.1h0M365.7 212.4h0M363.9 213.3h0M364.8 211.7h0M364.7 212h0M363.4 212.4h0M364.2 210.7h0M362.9 210.7h0M363.3 211h0M362.2 210.5h0M361.6 210.4h0M360.7 209.3h0M360.3 208.1h0M361.2 209.3h0M358.8 207.8h0M359.5 208.6h0M358.1 209.2h0M357.1 207.3h0M358.4 207h0M356.6 207.5h0M355.8 207.6h0M356.4 207h0M355.6 206.4h0M354.2 206.8h0M355.6 205.5h0M354.2 206.8h0M352.7 206.3h0M353 206.4h0M352 205.7h0M353.2 206.6h0M351.6 206.3h0M350.3 205.2h0M351.4 205.8h0M350.1 205.5h0M350.6 205.3h0M348.2 205h0M348.9 205.7h0M347.7 206.2h0M347.4 204.5h0M345.9 205h0M346.3 206.1h0M346.2 206.5h0M344.4 205.9h0M343.9 206.8h0M344.9 206.1h0M344.1 205.9h0M342.7 207.1h0M342.4 207.8h0M342.1 206.7h0M342.4 207.7h0M341.8 207.5h0M341.4 209.5h0M340.8 210.6h0M341.2 210.3h0M340.9 209.5h0M339.9 210.1h0M339.2 210.2h0M338.6 211.1h0M338.3 211.8h0M339.2 211.1h0M337.6 210.6h0M336.3 211.1h0M337.7 212h0M335.6 212h0M335.3 213.6h0M336.1 211.9h0M334.8 212.5h0M334.3 213.2h0M333.4 213.7h0M333.8 214.4h0M332.3 213.8h0M332.6 215.7h0M333.6 214.3h0M332 216.7h0M332.6 216.6h0M332 217h0M330.6 217.9h0M330.9 216.2h0M329.8 218.7h0M330.8 217.4h0M329.8 219.3h0M328.1 218.8h0M329.6 220h0M328.3 220.8h0M329.4 219.4h0M327 221.1h0M327.9 222.3h0M327.6 222.9h0M327.6 221.1h0M327.6 222.6h0M326.5 222.5h0M326.8 223.7h0M327 223.4h0M326 224.2h0M325.6 224.1h0M325.5 226.4h0M324.1 226.3h0M325.5 225.5h0M324.3 226.4h0M325.1 228h0M324.7 228.2h0M322.7 229.5h0M323.1 228.9h0M323.6 230.1h0M322.7 230.7h0M322.1 229.7h0M322.7 229.9h0M321.6 232.1h0M323 231.6h0M321.8 232.3h0M322.7 232.6h0M321.3 232.6h0M322.4 235.1h0M320.6 235.2h0M320.2 235.6h0M321.1 234.6h0M320.8 236.2h0M320.2 236.6h0M320.9 237.5h0M320.7 237.7h0M319.7 239.2h0M319.4 239.4h0M318.9 238.7h0M318.5 238.4h0M319.6 239.5h0M320 239.9h0M319.1 240.8h0M318.6 242.2h0M318.2 242.9h0M317.6 243.2h0M318 243h0M318.4 243.5h0M318.9 243.2h0M318.1 245.5h0M376.5 192.6h0M381.9 196.8h0M367.6 202.7h0M386.5 207.9h0M376.5 209h0M363.4 209h0M368.7 212.8h0M374.4 214.9h0M379.8 214.2h0M378.1 212.1h0M370.8 225.3h0M360.9 234.6h0" stroke="#000" stroke-width="4.1" stroke-linecap="round" fill="none"/>
<path d="M361.2 230.4L362.1 225.2L361.7 222.4L358.2 214.4L352.1 208.3L347.2 206.7L335.7 219.8L332.4 222.1L346.9 236.7L355.4 233.7Z" fill="#16ec2c" fill-opacity="0.1"/>
<path d="M359 226.4L359.2 224.4L358.7 222.5L354.7 213.9L350.3 208.2L348.9 207.2L347.2 206.7L335.7 219.8L332.4 222.1L346.9 236.7L355.4 233.7L357.8 232.4Z" fill="#16ec2c" fill-opacity="0.1"/>
<path d="M355 233.8L356.7 225.5L356.5 223.3L352.6 215.2L349.3 210.7L347.5 209.2L345.4 208.8L335.7 219.8L332.4 222.1L346.9 236.7Z" fill="#16ec2c" fill-opacity="0.1"/>
<path d="M352 233.8L352.9 232.4L354.3 225.5L354.2 224.1L350.6 216.4L347.2 212L345.8 211.2L342.9 211.6L335.6 219.8L332.4 222.1L346.9 236.7L349.3 235.9Z" fill="#16ec2c" fill-opacity="0.1"/>
<path d="M324.3 243.6L338.4 237.5L344.8 234L348.9 230.8L350 225.2L346.9 218.6L344.7 215.6L341.5 216.1L332.4 222.3L322.7 231.8L320 238.6L318.2 244.8L321.1 244.6Z" fill="#16ec2c"/>
<path d="M329.5 241.2h0M329.5 240.6h0M330 240.5h0M331.5 240.9h0M332.6 239.7h0M333 240.2h0M333.9 239h0M334.3 239h0M335.2 239.4h0M335.6 238.3h0M336.5 238.8h0M336.7 237.9h0M337.4 238.1h0M338.9 236.9h0M339.1 237.5h0M340.2 237.1h0M341 236.7h0M341.9 235.7h0M341.7 235.4h0M343.1 235.1h0M343 235.2h0M343.3 234.3h0M344.7 234.5h0M345.8 233.3h0M346 233.4h0M346.6 231.8h0M347.1 232.6h0M347.1 231.7h0M348.3 230.9h0M348.8 229.9h0M348.8 229.3h0M348.7 229h0M349.8 227.8h0M349.1 227.2h0M349.7 227.1h0M349.7 226.5h0M350.3 225.3h0M349.4 225.1h0M349.6 223.7h0M348.6 222.7h0M348.9 222.2h0M348.7 221.2h0M347.9 220.3h0M347.3 220h0M347.7 219h0M347.1 218.6h0M346.3 218.2h0M345.9 217.9h0M344.8 216.6h0M344.7 216.1h0M343.8 216h0M343.7 215.6h0M343.2 216.5h0M341.6 216.4h0M341.2 215.7h0M341.4 216.8h0M339.8 216.8h0M339 217.4h0M339.5 218.2h0M337.8 219.1h0M337.2 219.1h0M336.6 219.4h0M336.3 219.8h0M335.6 221.1h0M334.3 221.4h0M334 220.8h0M333.5 222h0M332.2 222.6h0M332.8 222.1h0M331.6 223.5h0M331.7 223.1h0M330.4 224.3h0M329.5 224.7h0M329.3 224.9h0M328.7 225.5h0M328 225.6h0M327.2 227.2h0M326.7 227h0M326.2 228.2h0M326.8 228.2h0M325 229.8h0M325.3 230h0M323.8 230.7h0M323.9 231.1h0M323.2 230.9h0M323.2 231.3h0M322.1 232h0M321.5 233.1h0M321.5 234h0M321.8 234.1h0M321.5 234.9h0M320.6 235.7h0M320.1 236.8h0M319.8 238h0M320.2 239.2h0M320.4 238.9h0M320.4 239.8h0M319.9 241.2h0M318.6 241.6h0M318.8 242.2h0M319.3 242.9h0M318.3 243.4h0M318.5 243.8h0M319 245h0M320 244.2h0M320.4 244.3h0M320.8 244.8h0M322.5 243.9h0M322.1 243.7h0M323.3 243.8h0M324.9 243.7h0M325.1 243.8h0M325.3 242.9h0M325.8 242.3h0M327.3 242.7h0M328 241.9h0M328.5 241.3h0" stroke="#16ec2c" stroke-width="4.1" stroke-linecap="round" fill="none"/>
<path d="M326.9 227.6h0M358.8 217.6h0M352.1 221.2h0M357.6 230.3h0M345.6 211.1h0M363.4 225.2h0M350.8 209.9h0M352.6 223.2h0M357.6 229.5h0M355 220.5h0M359.7 228.2h0M349.3 231.6h0M334 241.1h0M356.8 213.8h0M355.9 226.5h0M351.7 234.7h0M350.7 234.4h0M352.4 220.7h0M351.3 215.9h0M342.4 212.2h0M354.6 226.4h0M358.5 223.8h0M347.4 211.5h0M356.8 231.8h0M353 221.3h0M346.7 213.4h0M348 217.6h0M340.3 237.3h0M351.2 234.1h0M358.1 215.1h0M358.3 223.9h0M356.1 230.9h0M351.5 211.5h0M353.4 217.7h0M322.8 244.4h0M349.5 235.5h0M352.3 231.4h0M343.6 210.9h0M346.7 208.3h0M362.2 220.8h0M355 224.4h0M352.4 230.2h0M353.9 230.9h0M353.8 233.7h0M345.9 210.9h0M354.1 220.5h0M352 224.6h0M359.1 217h0M358.2 225.9h0M353.5 214h0M356.3 231.4h0M360.1 230.1h0M354 221.2h0M362.3 227.2h0M359.3 225.1h0M362.4 227.3h0M357.9 220.6h0M350 215.7h0M356 230.2h0M347.3 235.5h0M356 224h0M352.7 230.6h0M355.4 221.1h0M355.1 224h0M353.8 229.2h0M355 214.8h0M347.4 212.1h0M348.2 215.2h0M349 209.8h0M349.7 213.3h0M346.9 234.1h0M354 219h0M349.5 214.8h0" stroke="#031c05" stroke-opacity=".8" stroke-width="1.4" stroke-linecap="round" fill="none"/>
<path d="M354.3 221.7 347.9 207.9 356.7 229.9 350.8 216.4 350.9 209 352 218.9 349.3 230.3 346.2 233.8 355.1 226.4 361.3 230.3 343.8 206.6 356.6 225.3 347.8 219.1 353.4 206 351.1 234.1 358.4 229.7 341.4 213.3 356.2 234.4 352.9 231.9 353.6 227 348.6 233.2 346.3 217.3 352.8 236.6 352.8 231.5 351.1 209.9 348.1 233 350.2 228.6 341.1 215.7 363.3 221.3 353.7 229.1 346 235.2 348 209.6 350.3 225 341.4 214.3 348.9 213.2 356.7 224.1 354.7 221.7 350.8 217.8 347.5 234.9 349.8 231.9 353.2 223.8 354.2 231.3 350 217.6 332.2 219.2 354 236 348.1 233.2 353.8 223.3 353.7 221.5 349.7 208 334.9 218.8 363.1 226.3 351.4 214.1 345 209.1 362.5 231.3 346.9 211 353.1 215.4 333.2 221.6 344.8 211.8 358 224.6 362.1 228.3 360.4 220.1 346.5 212.7 358.9 210.6 357.7 219.3 341.3 212.4 359.8 222.4 356 221.2 350.5 223.6 359.4 231.4 350.9 229.2 357.2 233.1 348 218.1 352.6 233.9 351.5 213.3 354.3 224 354.4 226.4 358.9 220.6 340.8 214.7 345.6 208.1 342.3 215 341.2 211.1 356.3 210.3 339.8 212.3 347.6 214.6 348.9 219.6 344.5 213.6 357.3 228.7 350.3 232.5 362.6 217.5 342.8 213.8 348.8 193.9 351.3 194.7 347.7 196.4 344.6 198.5 349.8 201.6 351.9 201.6 316.9 222 316.9 228.9 337.3 175.2" fill="none" stroke="none" marker-start="url(#m6)" marker-mid="url(#m6)" marker-end="url(#m6)"/>
<text x="309.2" y="249.7" font-size="7.1" fill="#444" stroke="#444" stroke-width=".22" text-anchor="end">0</text>
<text x="309.2" y="224.2" font-size="7.1" fill="#444" stroke="#444" stroke-width=".22" text-anchor="end">100</text>
<text x="309.2" y="198.8" font-size="7.1" fill="#444" stroke="#444" stroke-width=".22" text-anchor="end">200</text>
<text x="309.2" y="173.3" font-size="7.1" fill="#444" stroke="#444" stroke-width=".22" text-anchor="end">300</text>
<text x="309.2" y="147.8" font-size="7.1" fill="#444" stroke="#444" stroke-width=".22" text-anchor="end">400</text>
<text transform="translate(316.9 252.1) rotate(-90)" font-size="6.5" fill="#444" stroke="#444" stroke-width=".22" text-anchor="end">0</text>
<text transform="translate(342.1 252.1) rotate(-90)" font-size="6.5" fill="#444" stroke="#444" stroke-width=".22" text-anchor="end">100</text>
<text transform="translate(367.2 252.1) rotate(-90)" font-size="6.5" fill="#444" stroke="#444" stroke-width=".22" text-anchor="end">200</text>
<text transform="translate(392.4 252.1) rotate(-90)" font-size="6.5" fill="#444" stroke="#444" stroke-width=".22" text-anchor="end">300</text>
<text transform="translate(417.5 252.1) rotate(-90)" font-size="6.5" fill="#444" stroke="#444" stroke-width=".22" text-anchor="end">400</text>
<text x="319.5" y="266.3" font-size="6.1" font-weight="bold" fill="#222" stroke="#222" stroke-width=".18" textLength="83.6" lengthAdjust="spacingAndGlyphs">Measured Streamflow (cms)</text>
<text transform="translate(297.8 235) rotate(-90)" font-size="5.7" font-weight="bold" fill="#222" stroke="#222" stroke-width=".18" textLength="80.3" lengthAdjust="spacingAndGlyphs">Predicted Streamflow (cms)</text>
<text x="410.5" y="240.5" font-size="7.1" font-weight="bold" fill="#222" stroke="#222" stroke-width=".18" text-anchor="end" textLength="13.8" lengthAdjust="spacingAndGlyphs">DL6</text>
<circle cx="320.1" cy="150.8" r="2.1" fill="#000"/>
<text x="324.4" y="153.3" font-size="6.8" fill="#262626" stroke="#262626" stroke-width=".25" textLength="15" lengthAdjust="spacingAndGlyphs">Train</text>
<circle cx="343.5" cy="151" r="1.8" fill="none" stroke="#9deaa6" stroke-width=".8"/>
<text x="347.5" y="153.3" font-size="6.8" fill="#262626" stroke="#262626" stroke-width=".25" textLength="11.6" lengthAdjust="spacingAndGlyphs">Test</text>
</g>
<g>
<marker id="m7" markerWidth="6" markerHeight="6" refX="3" refY="3" markerUnits="userSpaceOnUse"><circle cx="3" cy="3" r="1.81" fill="none" stroke="#1fdc30" stroke-width=".7"/></marker>
<path d="M60.5 279.8V387M34 360.2H140M87 279.8V387M34 333.4H140M113.5 279.8V387M34 306.6H140M140 279.8V387M34 279.8H140" stroke="#efefef" stroke-width=".7" fill="none"/>
<path d="M34 279.8V387H140" stroke="#cfcfcf" stroke-width=".8" fill="none"/>
<path d="M34 387L140 279.8" stroke="#27abe8" stroke-width="1.4" fill="none"/>
<path d="M36.5 385.2L40.3 385.3L50.4 382.5L60.9 379.1L71.4 376.6L82.4 373L88.2 366.8L90.8 362.5L89 358L88.1 352.5L81.8 349.8L68.9 345.9L64.4 347.7L59.1 350.4L53.1 352.4L47.3 359.2L42.2 368.3L38.7 377.6Z" fill="#000"/>
<path d="M35.7 385.4h0M37.9 385.7h0M37.4 384.4h0M38.8 385.8h0M39.2 385.8h0M39.9 385.5h0M41 385.5h0M41.5 385.5h0M41.1 384.5h0M42.6 384.7h0M43.3 384.2h0M42.9 383.9h0M43.7 383.2h0M43.7 383.4h0M45.4 384.3h0M44.5 383.5h0M44.4 384h0M46.7 383.5h0M47.4 382.9h0M47.8 383.5h0M47.9 382.7h0M47.5 383.4h0M49.5 383.8h0M48.8 383h0M50 382.3h0M49.4 383.1h0M51.4 382.9h0M50.7 382.5h0M51.8 381.9h0M51.3 381.8h0M53.2 382.4h0M53.6 381.6h0M53.5 380.5h0M55.3 380h0M54.5 380.7h0M56.2 381.2h0M55.6 379.7h0M55.8 381.2h0M56.1 381h0M56.4 380.6h0M58.9 378.9h0M58 379.9h0M59.8 379.1h0M59.7 379.6h0M61.1 379.7h0M61.2 379.4h0M61.5 379h0M61.7 378.9h0M63 379h0M62.2 379.2h0M62.3 378.1h0M63.5 379.2h0M64.8 379.2h0M64.9 378h0M64.9 378.4h0M66.1 376.7h0M67.8 377h0M67.2 378h0M68.1 377.3h0M68.4 376.1h0M69.1 376.3h0M69.1 376.3h0M69.2 376.7h0M69.4 377.4h0M69.6 377.3h0M71.8 377.3h0M72.5 375.6h0M73 375.7h0M72.3 376.6h0M72.6 376.6h0M73.8 376.2h0M75.2 374.4h0M75.1 375.3h0M74.9 375.5h0M76 375.5h0M76.3 374.8h0M76.7 373.5h0M78.4 375.4h0M77.1 373.3h0M78.5 373.7h0M79.4 373.8h0M78.7 374.5h0M79.8 373.7h0M80.5 373.7h0M81.7 373.3h0M81.9 372.1h0M81.4 371.8h0M82.8 372.9h0M83 372.8h0M83.5 371.3h0M82.6 370.7h0M84.3 371.1h0M84.1 369.8h0M85.5 369.9h0M85.9 369.1h0M85.3 369.2h0M85.4 369.6h0M87.2 369.6h0M85.7 367.7h0M86.3 367.9h0M88.2 368.5h0M87.9 367.8h0M86.9 367.7h0M89.2 366.6h0M88.4 366.2h0M89.1 364.4h0M88.7 365.6h0M89.6 364.1h0M90.6 364.4h0M89.7 364.3h0M90.1 361.9h0M90.8 362.7h0M90.3 362h0M89.1 361.7h0M90.4 360.5h0M89.2 359.9h0M90.1 360.2h0M88.8 360.1h0M90 359.8h0M88.3 357.3h0M88.7 359h0M89.1 357.3h0M89.7 356.4h0M87.7 355.4h0M87.3 356.2h0M87.9 356.1h0M88.9 355.9h0M87.6 353.2h0M87 353.1h0M88.7 353.2h0M87.3 353.1h0M87.8 352.2h0M86.3 351.3h0M85.1 351.1h0M85.1 352.7h0M84.6 352.3h0M85.2 350.8h0M84.6 351.6h0M83.4 351.3h0M84.3 350.3h0M81.5 350.2h0M82.2 350.3h0M82.3 349.7h0M80.7 350.7h0M80.6 350.3h0M80.2 349.6h0M79.7 348.6h0M79.4 349.4h0M79.2 349.4h0M77.8 348.6h0M76.3 348h0M76.3 349.1h0M76.7 348.6h0M75.7 348.4h0M74.9 347.5h0M74 348.3h0M73.6 348.1h0M73.1 346.9h0M74.2 347.1h0M72.6 347.5h0M72.5 346.5h0M71.2 347.2h0M71.4 346.5h0M70.6 347.7h0M69.5 346.4h0M70.6 347h0M69 346.8h0M67.7 345.2h0M69 346.2h0M67.3 347.2h0M67.8 347.2h0M65.9 346.2h0M65.7 347.1h0M65.6 346.9h0M63.9 348.4h0M65.3 346.6h0M65.5 347.8h0M62.7 349.1h0M64.3 347.6h0M63.6 349.7h0M61.1 349.7h0M62.5 349.9h0M61.5 348.6h0M61.2 350h0M59.2 350.9h0M60.4 349.8h0M59.9 350.1h0M58.6 351.1h0M59.7 350.9h0M56.9 351.7h0M57.1 351.9h0M56.4 352.2h0M57.5 352.3h0M56.2 352.1h0M56.1 352.5h0M55.1 351.2h0M54.6 352.5h0M53.3 351.4h0M53.3 351.5h0M51.8 354.2h0M52.2 353.9h0M53.3 354h0M50.9 353.7h0M51.9 354.3h0M51 355.5h0M51.2 354.9h0M49.3 355.1h0M50.1 355.6h0M50.1 356.3h0M48.4 357.4h0M48.8 356.6h0M48.3 359h0M48 359.1h0M47 359.7h0M47.8 359.2h0M46.7 359.1h0M47.1 361.1h0M45.7 361.4h0M46.2 362.3h0M46.2 361.2h0M46.6 362.4h0M44.5 363.1h0M44.4 362.8h0M44.4 364.6h0M45.4 363.8h0M44.4 364h0M44.6 364.9h0M44.4 364.6h0M43 366.6h0M43.8 367.2h0M43.5 367.1h0M44 368.6h0M43 368.2h0M42.3 367.4h0M42.3 368.4h0M41.9 369.4h0M42.7 370.1h0M42 371.3h0M41.3 371.8h0M41.3 371.2h0M41.7 372.5h0M41.7 373.3h0M41.4 372h0M40.4 372.7h0M40 374.9h0M39.2 373.8h0M40.2 374.4h0M40.3 375.9h0M40.4 375.2h0M39.2 377.1h0M39.3 376.7h0M39.5 378.3h0M39.5 377.6h0M38 378h0M37.9 378.7h0M38.3 379h0M37.1 379h0M38.3 381.6h0M39.1 381.5h0M37.7 381.2h0M37.8 381.5h0M37.2 382.5h0M38.1 382.7h0M37.6 384.1h0M37.8 385h0M35.9 383.9h0M77.2 336.1h0M85.6 338.2h0M80.3 341.7h0M77.2 342.8h0M85.6 344.5h0M103 340.3h0M98.8 344.9h0M90.8 347.4h0M99.2 350.1h0M103 352.9h0M96.7 354.3h0M96.7 356.4h0M91.9 363.3h0M83.5 374.3h0M104 314h0M108.8 320.7h0" stroke="#000" stroke-width="4.3" stroke-linecap="round" fill="none"/>
<path d="M81.1 370L83.7 363.9L77.9 354.3L71 347.4L67 345.8L61.5 350L51.1 359.3L68.4 376.8L74.3 374.8Z" fill="#16ec2c" fill-opacity="0.1"/>
<path d="M83.2 363.1L77.9 354.3L71 347.4L67 345.8L61.5 350L51.1 359.3L68.4 376.8L74.3 374.8L81.1 370L82.5 366.6Z" fill="#16ec2c" fill-opacity="0.1"/>
<path d="M78.5 371.7L79.3 369.8L80.9 361.7L80.7 359.1L77.9 354.3L71 347.4L67 345.8L61.5 350L51.1 359.3L68.4 376.8L74.3 374.8Z" fill="#16ec2c" fill-opacity="0.1"/>
<path d="M70.3 375.3L76.5 370L78.4 360.4L73.7 350.1L71 347.4L67 345.8L61.5 350L51.1 359.3L68.2 376.5Z" fill="#16ec2c" fill-opacity="0.1"/>
<path d="M39.9 384.9L60.5 375.7L67.9 371.5L72.5 367.8L73.9 360.9L70.3 353L67.7 349.4L64 350.1L53.7 357.4L48.3 362.5L42.8 368.2L39.1 377.7L37.1 384.8Z" fill="#16ec2c"/>
<path d="M49.2 380h0M50.7 380h0M51.8 379.4h0M52.9 378.7h0M53.1 379.3h0M53.3 378.8h0M55 377.9h0M55.6 378.3h0M55.6 377.9h0M56.1 377.8h0M56.6 377h0M58.7 376.9h0M58.8 375.9h0M59.7 376h0M59.9 376.1h0M60.7 375.6h0M61.8 374.5h0M63.3 374.7h0M63.9 373.4h0M63.5 373.3h0M64.8 373.4h0M65.5 373h0M66.4 373h0M66.4 372h0M67.9 372h0M67.2 371.2h0M69.3 371h0M69.4 370.5h0M70.3 370.1h0M70.1 369.5h0M70.8 368.4h0M72.5 367.9h0M71.5 368.3h0M72.9 367.3h0M72.9 366.7h0M73.1 365.4h0M72.7 364.5h0M73.6 363.6h0M74 362.3h0M73.4 362.2h0M73.3 362.2h0M73.1 360.6h0M73.1 359.6h0M73.1 359.7h0M73.1 358.9h0M72.4 357.9h0M71.9 357.8h0M71.6 356.4h0M71.8 355.3h0M71 354.9h0M70.6 355h0M71 354.1h0M70 352.4h0M69.7 351.8h0M68.8 351.7h0M68.6 350.4h0M67.7 350h0M67.1 349.8h0M66.1 350h0M66.1 349.2h0M65.6 349.6h0M64.2 349.8h0M64.1 350.4h0M63.4 350.8h0M62.6 351.5h0M61.8 352.1h0M61.2 352.4h0M60.9 352.1h0M59.5 352.5h0M58.9 353.6h0M58.3 354.1h0M58.1 354.6h0M57.9 354.5h0M57 355.1h0M56.4 355.2h0M55.4 356.7h0M54.3 356.8h0M53.8 357.7h0M53.6 357.3h0M53.3 357.9h0M52.4 358.3h0M51.5 359.5h0M51.3 359.6h0M50.3 361.1h0M50.1 361h0M48.8 362.1h0M48.7 362.1h0M48.4 362.4h0M47.3 363h0M47 364h0M46.8 363.9h0M45.7 365.5h0M45.6 365.9h0M45.7 365.3h0M44.2 366.4h0M44.2 367.3h0M43.2 367h0M42.9 368.3h0M42.5 368.5h0M42 370h0M42.3 370.5h0M41.6 371.2h0M41.6 371.6h0M40.9 373.7h0M40.7 373.3h0M40.4 373.9h0M39.9 375.7h0M39.7 375.8h0M40.2 376.2h0M39.3 377.6h0M39.8 377.6h0M39.4 378.3h0M38.1 379.8h0M38.7 380.1h0M37.9 380.5h0M37.9 381.8h0M37.5 382.6h0M37 383.8h0M37.7 383.7h0M37.3 384.7h0M39.2 384.2h0M38.5 384.9h0M40.1 384.4h0M40.8 384.9h0M40.7 384.2h0M42.2 383.8h0M42.5 383.3h0M44.2 383h0M44 382.7h0M45.6 381.8h0M45.8 382.4h0M45.9 382.1h0M47.1 381.1h0M47.9 380.8h0M48.9 381.2h0M48.9 380.3h0" stroke="#16ec2c" stroke-width="4.3" stroke-linecap="round" fill="none"/>
<path d="M81.7 362.5h0M81.3 361.5h0M72.6 352.7h0M61.5 375.8h0M77.7 356.6h0M76.4 353.2h0M74.9 371.4h0M75.7 367.2h0M73 350.8h0M53.9 379.7h0M81 359.9h0M82.2 365.2h0M77.7 356.4h0M78.3 360.1h0M69.7 348.8h0M74 372.2h0M74.4 351.9h0M75.2 352h0M72.8 375.2h0M77.9 370.9h0M78.8 368.5h0M79.2 357.4h0M77.5 367.4h0M75.4 354.9h0M76.6 370h0M76.4 354.3h0M80.9 362.7h0M74 368.8h0M77.9 364.3h0M80.4 366.1h0M57.8 379.3h0M73.6 350.3h0M77.7 369.2h0M68 376.7h0M75.4 357.4h0M75.8 353.2h0M72.9 372.7h0M44.8 384.1h0M80.4 366.6h0M79.2 366h0M77.2 364h0M78.4 356.8h0M80.5 361.4h0M75 373.4h0M81.4 362.8h0M77.8 359.6h0M44.6 383.3h0" stroke="#031c05" stroke-opacity=".8" stroke-width="1.5" stroke-linecap="round" fill="none"/>
<path d="M77.3 360.7 77.3 357.1 81.7 370.5 61.5 348.7 74.5 368.7 79 358.2 82.4 357.4 72.7 377.2 79.7 369.6 74.5 371.9 69.3 350.7 78.4 368.2 60.2 352.5 57 354.2 74.2 350.8 58.7 352 74.3 348.6 72.9 348.6 73.2 367.8 80.2 359.7 61.1 348.6 67.3 347.2 80.5 358.7 67.7 349.3 75.5 362.3 54.2 355.2 66.9 348.7 61.9 348.2 63.7 348.6 81.5 357.9 79 364 76.4 357.4 71.1 369 67.9 347.4 72.4 376.7 81.4 370.7 54.6 355 76 355.4 74.5 365.1 70.8 347.2 76.4 357.9 75.8 357.2 72.2 354 69.6 346.3 61.3 349.1 70.4 372.6 63.6 349.4 72.4 355.4 65.6 347.5 81.6 365 86.9 366.2 72.7 367.8 80.8 356.2 80.9 351.9 75.1 368.3 74.7 348.1 76.4 353.3 62.3 350.2 73 371.2 74.6 362.9 73.2 356 55.6 355.9 88.5 363.9 79.4 366.5 79.1 364.2 58.9 349.5 74.7 352.1 87.3 358.4 69.4 345.8 70.6 369.5 75 353 76.3 352.6 69 348.7 73.8 369.1 69.6 345.1 64.8 346.8 63.8 348.9 69.6 370.5 74.5 369.4 85.8 364.6 72.6 356.4 69.4 347.7 69.6 346.9 66.7 372.6 55.6 353.4 71.4 368.8 67.3 329.1 57.3 335.4 64.6 336.5 67.8 335.4 70.9 339.6 65.7 341.7 35.9 369 64.9 308.9 71.6 320.7 67.6 329.2" fill="none" stroke="none" marker-start="url(#m7)" marker-mid="url(#m7)" marker-end="url(#m7)"/>
<text x="27.8" y="389.5" font-size="7.4" fill="#444" stroke="#444" stroke-width=".22" text-anchor="end">0</text>
<text x="27.8" y="362.7" font-size="7.4" fill="#444" stroke="#444" stroke-width=".22" text-anchor="end">100</text>
<text x="27.8" y="335.9" font-size="7.4" fill="#444" stroke="#444" stroke-width=".22" text-anchor="end">200</text>
<text x="27.8" y="309.1" font-size="7.4" fill="#444" stroke="#444" stroke-width=".22" text-anchor="end">300</text>
<text x="27.8" y="282.3" font-size="7.4" fill="#444" stroke="#444" stroke-width=".22" text-anchor="end">400</text>
<text transform="translate(35.9 392.1) rotate(-90)" font-size="6.8" fill="#444" stroke="#444" stroke-width=".22" text-anchor="end">0</text>
<text transform="translate(62.4 392.1) rotate(-90)" font-size="6.8" fill="#444" stroke="#444" stroke-width=".22" text-anchor="end">100</text>
<text transform="translate(88.9 392.1) rotate(-90)" font-size="6.8" fill="#444" stroke="#444" stroke-width=".22" text-anchor="end">200</text>
<text transform="translate(115.4 392.1) rotate(-90)" font-size="6.8" fill="#444" stroke="#444" stroke-width=".22" text-anchor="end">300</text>
<text transform="translate(141.9 392.1) rotate(-90)" font-size="6.8" fill="#444" stroke="#444" stroke-width=".22" text-anchor="end">400</text>
<text x="38.7" y="407" font-size="6.4" font-weight="bold" fill="#222" stroke="#222" stroke-width=".18" textLength="88.1" lengthAdjust="spacingAndGlyphs">Measured Streamflow (cms)</text>
<text transform="translate(15.8 374.1) rotate(-90)" font-size="6" font-weight="bold" fill="#222" stroke="#222" stroke-width=".18" textLength="84.5" lengthAdjust="spacingAndGlyphs">Predicted Streamflow (cms)</text>
<text x="134.5" y="379.9" font-size="7.4" font-weight="bold" fill="#222" stroke="#222" stroke-width=".18" text-anchor="end" textLength="14.5" lengthAdjust="spacingAndGlyphs">DL7</text>
<circle cx="39.3" cy="285.5" r="2.2" fill="#000"/>
<text x="43.8" y="288.1" font-size="7.1" fill="#262626" stroke="#262626" stroke-width=".25" textLength="15.9" lengthAdjust="spacingAndGlyphs">Train</text>
<circle cx="63.9" cy="285.7" r="1.9" fill="none" stroke="#9deaa6" stroke-width=".8"/>
<text x="68.1" y="288.1" font-size="7.1" fill="#262626" stroke="#262626" stroke-width=".25" textLength="12.2" lengthAdjust="spacingAndGlyphs">Test</text>
</g>
<g>
<marker id="m8" markerWidth="6" markerHeight="6" refX="3" refY="3" markerUnits="userSpaceOnUse"><circle cx="3" cy="3" r="1.82" fill="none" stroke="#1fdc30" stroke-width=".7"/></marker>
<path d="M199.8 279.8V387.3M173.2 360.4H279.8M226.5 279.8V387.3M173.2 333.6H279.8M253.2 279.8V387.3M173.2 306.7H279.8M279.8 279.8V387.3M173.2 279.8H279.8" stroke="#efefef" stroke-width=".7" fill="none"/>
<path d="M173.2 279.8V387.3H279.8" stroke="#cfcfcf" stroke-width=".8" fill="none"/>
<path d="M173.2 387.3L279.8 279.8" stroke="#27abe8" stroke-width="1.4" fill="none"/>
<path d="M175.7 385.3L179.2 385.3L189.4 382.5L199.9 379.1L210.4 376.6L221.4 373L227.2 366.8L229.8 361.7L228 357.9L227 351.5L220.9 348.9L213.5 347.8L207 345L203.6 347.6L198.2 351L192.1 353.4L186.3 359.3L181.2 368.4L177.8 377.6Z" fill="#000"/>
<path d="M177.2 385.7h0M177.6 385.5h0M176.4 384h0M178.3 384.7h0M177.2 385.7h0M179.6 384.2h0M178.6 384.9h0M180.9 384.6h0M181.5 385h0M181.3 383.5h0M182.1 385.2h0M182 384.2h0M182 383.4h0M182.2 384.7h0M184.4 383.1h0M185.4 382.9h0M184.2 383.7h0M184.9 382.9h0M185.1 382.8h0M187 384.1h0M186.6 382.1h0M187.6 382.2h0M187.5 383.2h0M189.2 381.8h0M189 383.3h0M188.3 381.9h0M190.2 380.9h0M190.6 382h0M191.1 381.1h0M192.2 382.5h0M192.4 381.2h0M191.6 380.9h0M193.1 381.3h0M193.4 380.9h0M194.3 379.8h0M193.6 381.5h0M194 380.3h0M196.4 380.8h0M196.5 380.7h0M196 380.6h0M196.1 378.6h0M196.8 380.4h0M198.6 380.6h0M198.2 380h0M199.8 378.3h0M199.3 380.1h0M199.1 377.7h0M199.9 379.5h0M200.6 377.6h0M200.7 377.4h0M203.1 377.4h0M202.4 377.5h0M203.1 378.5h0M202.8 377h0M205.3 377.4h0M204 378.6h0M204.5 377.6h0M205.3 378.1h0M207.7 377.4h0M207.3 376.8h0M206.4 376.4h0M208.8 377.7h0M208.9 377.2h0M208.1 376.7h0M209 375.8h0M209.8 376.1h0M209.7 375.2h0M210.6 375.4h0M211.5 376.6h0M212.3 376.5h0M213.6 374.8h0M214.4 375.2h0M213.4 375.9h0M215.5 375h0M215.4 375.2h0M215.3 373.9h0M216.6 375.7h0M217.5 375.1h0M215.8 374.1h0M217.1 375h0M218.4 374.1h0M217.4 374.5h0M219.8 373.2h0M220.1 373.5h0M220.6 374.2h0M220.2 372.4h0M220 373.7h0M221.8 372.9h0M222.1 371h0M222.4 371h0M222.3 372.3h0M222.2 371.1h0M222.7 370.3h0M224.7 370.9h0M223 370.2h0M225.7 370.4h0M224.8 368.9h0M224.6 369.6h0M226.6 368.4h0M225.1 366.8h0M227.4 366.5h0M226.1 367.3h0M226.9 366h0M227.6 366.4h0M227.1 365.7h0M227.6 364.4h0M228.2 363.6h0M228.2 362.9h0M227.4 363.9h0M228.1 364.1h0M227.8 364h0M228.3 362.1h0M228.6 360.9h0M229.5 362.2h0M228.9 361.4h0M228.2 360.4h0M227.7 359.4h0M228 358.6h0M228.1 359.6h0M228.7 357.4h0M227.4 358h0M226.8 356.2h0M228.2 356.2h0M228.3 356.8h0M228.5 356h0M226.2 356.2h0M226.3 353.5h0M226.4 353.7h0M226.4 353.6h0M226.4 353.4h0M227.9 353.5h0M227.3 352.2h0M227.2 351.5h0M225.2 351.6h0M224.8 351.2h0M225.1 351.8h0M224.6 349.5h0M225.2 350.3h0M224.1 350.1h0M222 350.8h0M221.8 350.1h0M221.3 348.4h0M220.7 349h0M221.2 350h0M221.5 349.7h0M221 348.1h0M219.1 349.2h0M219.8 349.8h0M219.2 348h0M218.8 348.3h0M216.8 348.5h0M217.8 348.6h0M216.9 347.6h0M214.7 347.3h0M216.2 349.4h0M215.2 347.4h0M213.9 347.9h0M213.1 348.2h0M214.1 348.4h0M212.6 346.9h0M211.8 348.5h0M211.3 347.3h0M211 346.2h0M210.7 345.9h0M209.4 346h0M209.8 347h0M209 347.3h0M208.3 347.1h0M208 345.7h0M208.6 345.9h0M207.6 345.8h0M207.8 345.1h0M207.6 345.9h0M204.8 346.4h0M206 345.3h0M204.3 346.8h0M205.4 346.8h0M204.3 348.7h0M204.4 346.8h0M201.9 348.9h0M201.6 347.4h0M202.2 348.4h0M201.2 349.6h0M201.5 348.6h0M201.7 349.6h0M199.9 350.3h0M200.6 349.7h0M199.4 351.3h0M199.7 351.3h0M198.6 351.6h0M198.3 351.7h0M198.3 350.7h0M197.1 352.4h0M197.3 351.8h0M197.3 351.7h0M196.8 351.1h0M196.1 352.4h0M195.2 353.5h0M193.1 352.5h0M192.9 353.6h0M193.9 352.4h0M192.8 353.9h0M192.2 352.8h0M192 353.6h0M190.3 354.7h0M190.1 355.3h0M191.1 355.8h0M190.7 355.9h0M190.8 355.2h0M188.4 356.1h0M190.1 357.2h0M187.5 356.5h0M188.7 358.3h0M187.2 357.6h0M188.2 358.5h0M186.5 358.4h0M186 360h0M186.9 360.5h0M185.3 359.6h0M185.7 360.7h0M184.6 361h0M184.6 360.6h0M185.4 361.9h0M184.8 362.4h0M185.6 361.5h0M183.9 362.2h0M184.7 364h0M184 363.4h0M183.1 363.5h0M182.5 365.4h0M182.4 365.8h0M181.7 366.7h0M182.1 367.8h0M181 367.8h0M182 366.6h0M181.5 368.7h0M181.8 367.3h0M180.8 368.9h0M182 369.8h0M181.4 369.2h0M179.9 370.3h0M180.7 370h0M181.4 371.3h0M181.1 371.7h0M180.9 373.1h0M179.7 372.3h0M179.4 372.3h0M179.6 374.6h0M179.3 374.8h0M179.6 374h0M178.7 375.6h0M178.1 376.2h0M177.7 376.5h0M178.4 376h0M178.1 377.6h0M177.3 376.9h0M178.6 377.4h0M176.5 379.5h0M176.8 378.8h0M177.6 380.3h0M176.7 380.1h0M178 382h0M177.2 382.9h0M177.9 382.2h0M176.4 381.9h0M177.1 383h0M176.8 383.5h0M176.6 384.4h0M176.2 384.9h0M206.8 336.5h0M248.3 346.6h0M238.2 350.1h0M241.4 352.9h0M236.1 355.4h0M230.9 362.7h0M222.5 374.3h0M238.6 319.2h0M243.8 315.7h0M242.1 322h0" stroke="#000" stroke-width="4.3" stroke-linecap="round" fill="none"/>
<path d="M220.1 370L222.7 363.9L216.9 354.3L211 347.4L207.1 345.8L200.4 351.1L192 355.4L188.8 357.9L207.5 376.8L213.3 374.8Z" fill="#16ec2c" fill-opacity="0.1"/>
<path d="M222.6 363.8L216.9 354.3L211 347.4L207.1 345.8L200.4 351.1L192 355.4L188.8 357.9L207.5 376.8L213.3 374.8L220.1 370Z" fill="#16ec2c" fill-opacity="0.1"/>
<path d="M218.4 371L220.4 361.9L220.4 360.1L216.9 354.3L211 347.4L207.1 345.8L200.4 351.1L192 355.4L188.8 357.9L207.5 376.8L213.3 374.8Z" fill="#16ec2c" fill-opacity="0.1"/>
<path d="M209.7 375.6L216 370.3L217.9 360.6L213.7 351.2L211.2 347.6L207.1 345.8L200.4 351.1L192 355.4L188.8 357.9L207.5 376.8Z" fill="#16ec2c" fill-opacity="0.1"/>
<path d="M180.9 384.4L199.9 376L207.3 371.8L212 368L213.3 361.1L209.7 353.3L207.1 349.6L203.4 350.3L193 357.6L187.5 362.8L181.7 368.8L181 370.2L178.2 377.7L176.2 384.9L179.2 384.9Z" fill="#16ec2c"/>
<path d="M188.8 380.6h0M190.9 379.9h0M190.8 379.6h0M191.6 379.6h0M192.2 379.2h0M193.3 378.7h0M193.4 378.7h0M194.3 378.2h0M195 377.5h0M195.6 377.8h0M197.4 376.8h0M197.2 377.2h0M197.8 377.2h0M199.2 375.8h0M200 376.2h0M200.6 376h0M200.6 374.9h0M202.2 375h0M202.8 374h0M203 373.8h0M204 374.1h0M203.9 373.7h0M205.3 373h0M205.9 373.1h0M207.1 372h0M207.6 371.4h0M207.2 371h0M208.8 370.2h0M208.6 370.8h0M209.9 370.4h0M210.3 369h0M211.2 369.3h0M211.3 367.5h0M212.6 367.5h0M212.7 366.6h0M211.7 365.6h0M212.9 364.7h0M212.7 364.3h0M212.8 363.3h0M213 362.2h0M212.8 362.1h0M212.6 361.5h0M212.3 360.7h0M212.1 360.1h0M211.9 358.8h0M211.6 358.3h0M212.1 358.3h0M211 356.5h0M211.4 355.9h0M210.9 356.4h0M210.6 354.5h0M210.2 353.7h0M210.2 352.8h0M209.1 351.9h0M208.5 352.6h0M208.7 351.5h0M207.2 350.4h0M207.2 350h0M207.1 349.7h0M205.3 349.4h0M205.2 349.6h0M204.6 350.1h0M204.4 350.2h0M202.7 350.6h0M201.8 350.7h0M201.5 351.2h0M200.4 352.1h0M200 352.6h0M200.3 353h0M199.6 353h0M198.5 353.3h0M197.9 354h0M196.3 354.7h0M196.3 355.8h0M195.5 355.1h0M194.7 356.4h0M194 356.3h0M194.4 357h0M193.5 357.6h0M192.1 357.4h0M192.1 358.4h0M191.4 359h0M190.3 360.3h0M190.7 360.6h0M189.8 360.5h0M189.6 361.1h0M188.6 362.3h0M188.3 362.7h0M186.7 363h0M186.3 363.1h0M186.3 363.9h0M185.3 364.3h0M185.9 365.3h0M184.3 366h0M184.7 366.2h0M183.1 367.1h0M182.7 367.2h0M182.1 368.1h0M181.9 369.4h0M181.5 369.6h0M181.5 370.3h0M180.2 371h0M181 370.8h0M180.1 372.1h0M179.7 372.2h0M180.1 373.8h0M179.2 375h0M179.1 375.3h0M179.1 376.2h0M178.1 376.4h0M178.2 376.6h0M177.9 377.8h0M178.4 378.5h0M177.9 380.4h0M177.9 381.1h0M177.7 380.9h0M176.8 382.1h0M176.6 382.4h0M177.2 384.3h0M176.8 384.7h0M176.4 385.2h0M177.8 385.1h0M177.9 384.7h0M179 385h0M180.3 384.9h0M181 384.1h0M181.1 384.5h0M182.4 384.2h0M183.2 383.7h0M183.3 383.4h0M184.5 383.2h0M184.6 382.6h0M185.5 381.5h0M186.5 381.2h0M186.7 381.1h0M188.4 381h0M189.2 380.6h0" stroke="#16ec2c" stroke-width="4.3" stroke-linecap="round" fill="none"/>
<path d="M217.7 362.4h0M205.3 377.4h0M217 371.1h0M211.8 354.1h0M206.4 347.7h0M216.1 370.3h0M194.7 356h0M209 346.9h0M217.3 368.8h0M201.6 378h0M216.7 355.7h0M212.9 349.8h0M208 348.2h0M216.2 367.5h0M220.2 362.2h0M216.7 355.2h0M196.7 353.1h0M213.7 364.2h0M215.2 368.7h0M218.8 360.9h0M216.8 355.8h0M187.8 360.5h0M220.2 366.1h0M219.5 362.1h0M219.6 365.8h0M211.5 353.2h0M215.9 356.2h0M206 376.4h0M218.4 369.4h0M215.3 354.5h0M210.6 351.5h0M218.1 362.9h0M218.6 370.7h0M187.6 359.7h0M212.8 370.1h0M220 368.7h0M209.2 374h0M213.8 371.5h0M216.6 371.2h0M218.7 370.3h0M218.7 361.9h0M222 364.5h0M215.1 368.2h0" stroke="#031c05" stroke-opacity=".8" stroke-width="1.5" stroke-linecap="round" fill="none"/>
<path d="M217.6 362.9 214.2 358.1 220.3 364.2 212 376.1 220.5 358.3 214 354.8 215.2 375.5 214 364.5 207.2 346.6 195.7 353 213.3 356.9 210.1 352.6 218.8 367.9 217 365.4 210 345.6 215.7 363.7 217.7 358.6 214.7 354.8 207.6 345.9 212.8 369.3 217.2 373.3 219.1 369.4 208.6 373.9 217.5 369.7 194.1 355.9 207.1 349.1 215 353.5 215.1 364.6 216.9 368.8 210.9 374.6 215.7 367.5 210.7 369.8 219.2 352 214.2 371.4 212.7 356.7 223.7 365.4 211.2 369 220 359.6 191 355.6 217.9 354.3 212.9 364.1 202.8 350.5 216 351 215 358.1 204.7 346.5 207.3 345.9 219.7 370.9 217.3 368 194.3 356.3 217.2 360.2 213.1 369 214.4 350.9 208 372.3 215.5 357 198.1 351.5 211.2 370.1 218.8 368.2 214.3 358.5 220.2 366 222 372.3 216.1 353.2 203.2 348.5 200.8 351.3 213.1 364.4 210.9 373.3 212.6 352.5 208.3 372.2 216.4 359.6 214.5 372 197.4 350.8 218 369.8 215.8 356.4 218.4 367 209.8 371.4 194.2 356.1 215 364.9 209.9 370.6 219.8 361.9 220.3 363.6 215.9 351.9 219.7 364.3 190.7 355 224.8 363.6 192.8 357.4 220.8 370.3 204.7 326 206.8 342.4 211 341.9 184.7 354.3 225.6 365.4" fill="none" stroke="none" marker-start="url(#m8)" marker-mid="url(#m8)" marker-end="url(#m8)"/>
<text x="167" y="389.9" font-size="7.5" fill="#444" stroke="#444" stroke-width=".22" text-anchor="end">0</text>
<text x="167" y="363" font-size="7.5" fill="#444" stroke="#444" stroke-width=".22" text-anchor="end">100</text>
<text x="167" y="336.1" font-size="7.5" fill="#444" stroke="#444" stroke-width=".22" text-anchor="end">200</text>
<text x="167" y="309.2" font-size="7.5" fill="#444" stroke="#444" stroke-width=".22" text-anchor="end">300</text>
<text x="167" y="282.4" font-size="7.5" fill="#444" stroke="#444" stroke-width=".22" text-anchor="end">400</text>
<text transform="translate(175.1 392.4) rotate(-90)" font-size="6.8" fill="#444" stroke="#444" stroke-width=".22" text-anchor="end">0</text>
<text transform="translate(201.8 392.4) rotate(-90)" font-size="6.8" fill="#444" stroke="#444" stroke-width=".22" text-anchor="end">100</text>
<text transform="translate(228.4 392.4) rotate(-90)" font-size="6.8" fill="#444" stroke="#444" stroke-width=".22" text-anchor="end">200</text>
<text transform="translate(255.1 392.4) rotate(-90)" font-size="6.8" fill="#444" stroke="#444" stroke-width=".22" text-anchor="end">300</text>
<text transform="translate(281.7 392.4) rotate(-90)" font-size="6.8" fill="#444" stroke="#444" stroke-width=".22" text-anchor="end">400</text>
<text x="177.9" y="407.3" font-size="6.4" font-weight="bold" fill="#222" stroke="#222" stroke-width=".18" textLength="88.6" lengthAdjust="spacingAndGlyphs">Measured Streamflow (cms)</text>
<text transform="translate(154.9 374.3) rotate(-90)" font-size="6" font-weight="bold" fill="#222" stroke="#222" stroke-width=".18" textLength="84.7" lengthAdjust="spacingAndGlyphs">Predicted Streamflow (cms)</text>
<text x="274.3" y="380.2" font-size="7.5" font-weight="bold" fill="#222" stroke="#222" stroke-width=".18" text-anchor="end" textLength="14.6" lengthAdjust="spacingAndGlyphs">DL8</text>
<circle cx="178.5" cy="285.5" r="2.2" fill="#000"/>
<text x="183" y="288.2" font-size="7.2" fill="#262626" stroke="#262626" stroke-width=".25" textLength="15.9" lengthAdjust="spacingAndGlyphs">Train</text>
<circle cx="203.2" cy="285.7" r="1.9" fill="none" stroke="#9deaa6" stroke-width=".8"/>
<text x="207.5" y="288.2" font-size="7.2" fill="#262626" stroke="#262626" stroke-width=".25" textLength="12.3" lengthAdjust="spacingAndGlyphs">Test</text>
</g>
<g>
<marker id="m9" markerWidth="6" markerHeight="6" refX="3" refY="3" markerUnits="userSpaceOnUse"><circle cx="3" cy="3" r="1.83" fill="none" stroke="#1fdc30" stroke-width=".7"/></marker>
<path d="M339.1 279.8V387.6M312.4 360.7H419.1M365.8 279.8V387.6M312.4 333.7H419.1M392.4 279.8V387.6M312.4 306.8H419.1M419.1 279.8V387.6M312.4 279.8H419.1" stroke="#efefef" stroke-width=".7" fill="none"/>
<path d="M312.4 279.8V387.6H419.1" stroke="#cfcfcf" stroke-width=".8" fill="none"/>
<path d="M312.4 387.6L419.1 279.8" stroke="#27abe8" stroke-width="1.4" fill="none"/>
<path d="M315 385.4L318.2 385.3L328.4 382.5L338.9 379.1L349.5 376.6L361.4 373L366.2 366.9L368.9 362.4L368 357.9L366.2 351.7L352.6 347.8L346 345L342.6 347.6L337.2 351L331.1 353.5L325.3 359.3L320.3 368.3L317.2 377.5Z" fill="#000"/>
<path d="M316.7 385.4h0M314.9 385h0M316.6 384h0M316.2 385h0M318.5 384.3h0M318.2 385.7h0M318.9 385.1h0M318.7 385.8h0M320.4 383.8h0M319.6 384.4h0M321.2 385.1h0M320.5 383.1h0M322 384.5h0M323.4 384.8h0M323 382.6h0M322.7 382.6h0M323.2 383.9h0M325.3 383.3h0M324.6 383.9h0M326.6 382.7h0M326.6 382.5h0M327.1 382.3h0M326.6 383.8h0M326.8 383.5h0M327.2 381.6h0M329.6 382h0M328.5 382.8h0M329.7 381.6h0M331.3 381.1h0M330.3 380.6h0M331.8 380.4h0M332.8 380.4h0M332.6 380.1h0M333.8 379.7h0M333.6 381.6h0M334.9 380.1h0M334.7 381.5h0M335.4 379.6h0M334.5 381h0M337.1 380.2h0M337.5 379h0M336.9 379.2h0M338.3 379.8h0M336.9 378.7h0M339 379.2h0M338.1 378.3h0M339.2 379.6h0M340.1 378.9h0M341.1 379.3h0M341.4 378.8h0M342.6 377.1h0M342 377h0M341.6 379h0M343.3 378.8h0M344.3 377.4h0M345.4 377.9h0M345.1 376.4h0M344.1 378.3h0M345.7 376.6h0M346.6 376h0M347.3 377.5h0M347.1 377.3h0M349.2 377.7h0M348.5 376.7h0M348.5 376.8h0M348.6 376.3h0M349.8 375.6h0M350.5 375.1h0M350.3 375.8h0M352.4 376.3h0M352.3 375h0M353.8 374.2h0M353.3 376.1h0M353.8 375.7h0M353.1 374.2h0M354.9 374h0M355.3 374.8h0M355.9 374.6h0M357 374.5h0M356.8 374.9h0M356.4 374.4h0M356.8 375h0M358.8 373h0M359.2 374.2h0M358.8 374.1h0M360.8 373.5h0M360.3 373.2h0M359.7 372.7h0M361.5 373.5h0M362 373.2h0M361.5 372.8h0M362.2 371h0M363.7 370.9h0M363.3 371.1h0M363.7 369.2h0M364.1 370.8h0M364.1 368.4h0M365.2 368.3h0M363.8 367.2h0M365.8 368.3h0M365 367.4h0M365 367.3h0M365.3 367h0M366.6 366h0M367.6 366.7h0M367.6 364.7h0M367.4 365.2h0M366.7 365.1h0M367.6 362.9h0M367.3 364.2h0M367.3 362.9h0M367.8 363.6h0M369 362.8h0M367.8 361.4h0M368.2 360.7h0M368.8 360.3h0M368.1 359.9h0M367.2 358.7h0M367.1 357.8h0M367.8 359.2h0M367.1 357.7h0M368.1 358h0M368.2 356.9h0M368.4 355.8h0M366.4 356.3h0M367.3 355.5h0M366.3 354.7h0M367.4 355.2h0M366.1 353h0M366.2 351.8h0M366.6 353.3h0M366.8 351.6h0M365.1 350.6h0M364.6 351.5h0M364.5 350.5h0M363.5 351.9h0M362.6 352.3h0M363.4 350.3h0M363.4 350.1h0M362.1 351.8h0M361.3 351.5h0M361.9 351.5h0M360.8 349.6h0M359.9 351.1h0M359.3 348.8h0M359.1 350.2h0M358.2 349.1h0M357.1 348.8h0M357.2 350.2h0M355.9 348.3h0M355.7 349.7h0M355.4 348h0M356.1 349.7h0M355.8 347.8h0M354.3 347.8h0M353.1 348.7h0M352.1 347.1h0M353.2 349h0M352.4 347h0M350.9 348h0M352.2 347.2h0M350.7 347h0M350.3 346.2h0M348.8 346.1h0M349 345.5h0M348.5 346.9h0M348 345.2h0M348.1 345.3h0M347.3 346.6h0M345.7 346.1h0M345.8 345.5h0M346.5 346.2h0M345.6 346.6h0M344.7 346.5h0M344.8 346.4h0M343.8 347h0M344.3 346.3h0M343.5 346.7h0M343.6 346.7h0M341.8 349h0M343 348.8h0M341.1 349h0M341.3 348.9h0M341.2 350.2h0M339.7 349.7h0M339.9 351h0M339.1 349.3h0M338.6 349.9h0M338.8 350.2h0M337.6 350.4h0M337.3 350.6h0M335.9 350.4h0M336.2 351.4h0M335.7 351.4h0M333.9 352.7h0M335.4 352.6h0M335.4 351.6h0M332.8 352.5h0M333.1 353.9h0M333.3 352.4h0M331.9 352.9h0M332.9 353h0M332.2 353.5h0M330.7 353h0M331.5 353.2h0M331.2 354.8h0M328.7 354.7h0M329 355.9h0M328.8 356.5h0M328.8 356.5h0M328.7 356.4h0M327.8 357.6h0M327.4 358.1h0M328.1 357.2h0M327.1 357.5h0M326.3 359h0M326.1 360.3h0M325.6 358.3h0M324.3 360.6h0M324.2 361.1h0M324 360.9h0M324.1 362.3h0M323.7 362.3h0M323.3 361.9h0M324.3 362.7h0M322.3 363.2h0M323.9 364.5h0M323.2 363.3h0M323.1 365.2h0M322.1 365.2h0M322.1 365.4h0M322.5 366h0M321.7 367.4h0M320.5 367.5h0M322 367.9h0M319.7 367.7h0M320.2 367.8h0M321.2 369.6h0M320.1 369.5h0M320.4 370.1h0M318.8 371.3h0M320.5 370.5h0M318.5 371.6h0M318.8 371.6h0M320 373h0M319 372.7h0M319.3 374.4h0M317.6 374.9h0M318.3 375.3h0M317.5 375.3h0M317.9 375h0M316.9 376.6h0M317.8 375.9h0M318.6 377.2h0M317.3 376.8h0M316.9 379.4h0M317.4 378.2h0M316.4 380.1h0M317.5 379.6h0M317.7 379.4h0M316.4 381.2h0M317 380.3h0M317.1 382.3h0M316.1 382.5h0M316.5 383.5h0M316.1 382.5h0M315.7 384.6h0M315.4 385h0M315.3 385.8h0M364.2 330.2h0M364.2 336.5h0M381.4 342.4h0M387.7 347h0M381.4 350.8h0M378.3 352.2h0M375.1 354.3h0M369.9 351.2h0M370.5 363.3h0M362.1 374.7h0M378.3 317.8h0M383.2 318.8h0" stroke="#000" stroke-width="4.3" stroke-linecap="round" fill="none"/>
<path d="M359.1 370L361.7 363.9L355.9 354.2L350 346.3L345.3 344.8L339.5 352.3L331 357.6L329.1 359.2L346.5 376.8L352.3 374.8Z" fill="#16ec2c" fill-opacity="0.1"/>
<path d="M360.1 367.5L361 362.8L355.9 354.2L350 346.3L345.3 344.8L339.5 352.3L331 357.6L329.1 359.2L346.5 376.8L352.3 374.8L359.1 370Z" fill="#16ec2c" fill-opacity="0.1"/>
<path d="M356.6 371.8L358.4 362.8L358.4 360.7L355.1 353.2L350 346.3L345.3 344.8L339.5 352.3L331 357.6L329.1 359.2L346.5 376.8L352.3 374.8Z" fill="#16ec2c" fill-opacity="0.1"/>
<path d="M347.9 376.2L354.1 371L356 361.8L351.8 352.1L348.1 347L347.3 346.4L346 346.2L344 346.5L339.5 352.3L331 357.6L329.1 359.2L346.5 376.8Z" fill="#16ec2c" fill-opacity="0.1"/>
<path d="M321.7 383.9L338.3 376.5L345.6 372.4L350.1 368.7L351.4 362.1L347.9 354.4L345.3 350.9L341.8 351.5L331.7 358.7L326.4 363.7L320.7 369.5L319.5 372L317.6 377.7L315.5 385L318.1 384.9Z" fill="#16ec2c"/>
<path d="M328 381.3h0M328.8 381.1h0M329.3 380.5h0M330.6 379.8h0M330.9 379.6h0M331.7 379.7h0M332.5 379.3h0M333.1 378.3h0M334 378.6h0M335.1 377.5h0M335.9 378h0M335.2 377.1h0M337.2 377.2h0M337.8 376.1h0M338.1 376.5h0M338.2 376h0M340 375.6h0M340.7 375.4h0M340.5 375.5h0M342.2 374.5h0M342.7 374.7h0M342.6 374.1h0M343.9 373.1h0M344.3 372.8h0M345.3 372.4h0M346.6 372.3h0M346.5 371.7h0M347.2 371h0M348.1 370.6h0M348 370.6h0M349.5 370h0M349.2 369.4h0M349.5 369.2h0M349.7 367.2h0M350.7 367.3h0M350 366.2h0M350.7 365.2h0M351.4 364.6h0M350.6 363.8h0M351.2 362.5h0M351 362.1h0M351.2 360.9h0M350.9 360.8h0M351 359.9h0M350.1 358.9h0M349.5 358.5h0M349 358.6h0M348.9 357.8h0M349.1 356.9h0M348 356.1h0M348.3 355.6h0M348 353.7h0M347.3 353.8h0M346.5 352.9h0M346.1 352.5h0M345.7 351.8h0M345.3 350.9h0M344.9 350.5h0M344.2 351.5h0M343 350.8h0M342.4 351.6h0M342 351.6h0M340.2 352.9h0M339.9 352.6h0M339.5 353.2h0M339.5 353.4h0M337.7 353.8h0M337.6 354h0M337.4 354.4h0M336.9 355.6h0M335.8 355.6h0M335.4 356.2h0M334.2 357.2h0M333.9 357.5h0M333.8 357.3h0M332.9 357.9h0M331.7 359.1h0M332 359.3h0M331.4 360h0M329.7 360.6h0M329.4 360.8h0M328.8 361.9h0M328.7 362.1h0M328.6 361.9h0M327.3 363.3h0M326.9 363.9h0M326.2 363.9h0M326 365h0M325.2 365.1h0M323.9 366.1h0M324.4 366.7h0M323.6 367.5h0M322.5 367.7h0M322.6 368.1h0M322 369h0M321.4 369.6h0M320.8 370h0M319.9 370.5h0M320.1 371.2h0M319.6 372.5h0M319.1 372.1h0M319 374h0M319.3 373.6h0M319.1 375.4h0M318 375.7h0M318.3 377h0M318.1 377.2h0M317.8 377.6h0M318 378h0M317.1 379.7h0M317 380.1h0M316.6 380.9h0M316.6 382.4h0M316 382.6h0M315.9 383.4h0M315.6 384h0M315.5 384.7h0M316.5 384.9h0M317.7 384.5h0M318 384.4h0M319.1 384.9h0M319 384.7h0M320.5 384.5h0M321.2 384.4h0M321.2 384.4h0M322.3 383.5h0M322.3 383h0M323.8 383h0M325 382.9h0M325.6 382.4h0M326.1 381.7h0M326.5 381.9h0M327.5 381h0" stroke="#16ec2c" stroke-width="4.3" stroke-linecap="round" fill="none"/>
<path d="M345.7 376.4h0M351.7 349.9h0M360.1 364h0M356.4 359.3h0M356 370.2h0M353.8 357.4h0M350.6 370h0M356.7 366.7h0M360.7 363.5h0M350.5 351.2h0M352.3 371.9h0M333.2 380.4h0M358.7 363.3h0M350 358.4h0M354.2 354.1h0M345.7 373.6h0M350.8 375.2h0M331.2 380.1h0M352.3 372.3h0M338.4 377h0M356 356.9h0M355.3 372.2h0M355.6 357.2h0M354.6 373h0M354 354.7h0M353.3 352.3h0M347 374.2h0M343.8 376.3h0M354.7 352.8h0M346.5 351.7h0M347.8 372.1h0M348.5 374.1h0M351.9 349.8h0M345.4 348.6h0M361 363.6h0M354.6 372.1h0M360.5 364.6h0M350.9 359.5h0M349.2 373.4h0M354.5 363.5h0M319.8 385h0M346.8 374h0M352.9 353.7h0M353.3 371.7h0M357.6 367.5h0M341.8 378.3h0" stroke="#031c05" stroke-opacity=".8" stroke-width="1.5" stroke-linecap="round" fill="none"/>
<path d="M349.5 355.4 351.3 346.9 355.3 368.3 361.3 359.8 353.7 354.2 333.8 356.9 353 367.4 356.5 372.7 334.7 353.9 328.7 356.9 351.1 366 335.5 351.1 345.1 350.7 354.6 361.4 340.6 348.3 352 370.8 351.4 358.7 345.4 372.6 354.9 364.5 351 360 349.5 345.8 349.9 358.3 355.3 369.1 352.1 358.3 361.7 355.1 354.5 368 351.8 357 356 351.3 348.8 369.8 349.6 355.6 335.6 355.3 349.7 352.4 351.7 365.6 365.2 361.1 350 375.1 348.2 349.9 358.6 354.2 347.8 351.6 354.9 352.5 343.3 349.7 342 347.2 343.2 348.1 356.9 359.5 352.3 366.4 351.8 370.3 351.7 364.5 356.4 370.1 353.6 352.4 353.6 354.8 351.1 364.3 349 370.5 356 373.4 336.9 352.7 350 370.9 334.4 354.6 350.9 367 354 367.1 348.7 374.6 355.2 368 353 359.9 353.6 358.8 335.1 355.5 351.2 347.2 347.8 350 356.3 363 344.9 350.1 348 374.9 358.2 360.1 353.1 364 338.3 351.9 352.5 364.9 341.2 350.7 357.6 368.8 335.7 353.1 350.5 357 349.2 346 346.6 349.3 344.2 350 350.3 372.3 331.4 356.9 354.4 357.3 349.4 352.8 355.4 357.1 362.5 372 350.8 374.2 358.3 364.5 352.2 367.5 349.5 349.3 360.7 358.8 334.5 355.7 353.8 353 352.7 370.9 350.4 368.1 354.8 352.6 333.9 354.8 359.7 359.2 340.4 351 357 364.6 364.6 364.8" fill="none" stroke="none" marker-start="url(#m9)" marker-mid="url(#m9)" marker-end="url(#m9)"/>
<text x="306.2" y="390.2" font-size="7.5" fill="#444" stroke="#444" stroke-width=".22" text-anchor="end">0</text>
<text x="306.2" y="363.2" font-size="7.5" fill="#444" stroke="#444" stroke-width=".22" text-anchor="end">100</text>
<text x="306.2" y="336.3" font-size="7.5" fill="#444" stroke="#444" stroke-width=".22" text-anchor="end">200</text>
<text x="306.2" y="309.3" font-size="7.5" fill="#444" stroke="#444" stroke-width=".22" text-anchor="end">300</text>
<text x="306.2" y="282.4" font-size="7.5" fill="#444" stroke="#444" stroke-width=".22" text-anchor="end">400</text>
<text transform="translate(314.3 392.7) rotate(-90)" font-size="6.9" fill="#444" stroke="#444" stroke-width=".22" text-anchor="end">0</text>
<text transform="translate(341 392.7) rotate(-90)" font-size="6.9" fill="#444" stroke="#444" stroke-width=".22" text-anchor="end">100</text>
<text transform="translate(367.7 392.7) rotate(-90)" font-size="6.9" fill="#444" stroke="#444" stroke-width=".22" text-anchor="end">200</text>
<text transform="translate(394.4 392.7) rotate(-90)" font-size="6.9" fill="#444" stroke="#444" stroke-width=".22" text-anchor="end">300</text>
<text transform="translate(421 392.7) rotate(-90)" font-size="6.9" fill="#444" stroke="#444" stroke-width=".22" text-anchor="end">400</text>
<text x="317.1" y="407.7" font-size="6.4" font-weight="bold" fill="#222" stroke="#222" stroke-width=".18" textLength="88.7" lengthAdjust="spacingAndGlyphs">Measured Streamflow (cms)</text>
<text transform="translate(294.1 374.6) rotate(-90)" font-size="6" font-weight="bold" fill="#222" stroke="#222" stroke-width=".18" textLength="85" lengthAdjust="spacingAndGlyphs">Predicted Streamflow (cms)</text>
<text x="413.6" y="380.4" font-size="7.5" font-weight="bold" fill="#222" stroke="#222" stroke-width=".18" text-anchor="end" textLength="14.6" lengthAdjust="spacingAndGlyphs">DL9</text>
<circle cx="317.7" cy="285.5" r="2.2" fill="#000"/>
<text x="322.2" y="288.2" font-size="7.2" fill="#262626" stroke="#262626" stroke-width=".25" textLength="16" lengthAdjust="spacingAndGlyphs">Train</text>
<circle cx="342.5" cy="285.7" r="1.9" fill="none" stroke="#9deaa6" stroke-width=".8"/>
<text x="346.8" y="288.2" font-size="7.2" fill="#262626" stroke="#262626" stroke-width=".25" textLength="12.3" lengthAdjust="spacingAndGlyphs">Test</text>
</g>
<g>
<marker id="m10" markerWidth="6" markerHeight="6" refX="3" refY="3" markerUnits="userSpaceOnUse"><circle cx="3" cy="3" r="1.81" fill="none" stroke="#1fdc30" stroke-width=".7"/></marker>
<path d="M199.6 417.1V523.3M173.2 496.8H278.7M225.9 417.1V523.3M173.2 470.2H278.7M252.3 417.1V523.3M173.2 443.6H278.7M278.7 417.1V523.3M173.2 417.1H278.7" stroke="#efefef" stroke-width=".7" fill="none"/>
<path d="M173.2 417.1V523.3H278.7" stroke="#cfcfcf" stroke-width=".8" fill="none"/>
<path d="M173.2 523.3L278.7 417.1" stroke="#27abe8" stroke-width="1.4" fill="none"/>
<path d="M175.7 521.3L179.2 521.3L189.4 518.5L199.9 515.1L210.5 512.6L222 509L227.2 502.8L229.8 498.5L228 493.9L227.1 486.8L220.8 485.8L213.4 481.6L206.1 479.8L203.7 481.3L198.5 486.2L192.2 490.4L185.2 496.3L181.2 504.3L177.7 513.6Z" fill="#000"/>
<path d="M177.2 521.9h0M176.4 521.6h0M177.8 520.1h0M177.9 521.8h0M177.8 521h0M178.9 520.4h0M179.1 520.2h0M180.6 521.9h0M180.6 520.9h0M181.3 521.5h0M181.9 520.3h0M181.8 520h0M182.9 521h0M183.1 519h0M182.9 520.6h0M182.9 519.9h0M184.2 518.9h0M184.5 520.3h0M186.6 518.5h0M186.5 518.6h0M187.7 519h0M186.7 518.1h0M188.2 518.4h0M187.6 519.6h0M189.4 518h0M189.3 518.6h0M190.8 518.1h0M189.8 517.8h0M190.7 517.7h0M192.2 518.1h0M192.5 517.3h0M193.2 517h0M193.8 517.8h0M192.9 516.7h0M193.3 515.6h0M194.2 517.5h0M194.8 517.6h0M195 517.2h0M195.9 515.1h0M196.4 515h0M197.8 516.6h0M198.4 515.9h0M197.7 515.6h0M199.5 515.6h0M200.5 515.9h0M200.7 513.9h0M200.4 515.7h0M201.8 515.3h0M201.8 514.5h0M203.1 515.4h0M203.2 514.1h0M203.5 513.8h0M203.2 513.1h0M204.2 512.9h0M205 513.3h0M204.9 514.1h0M205.9 514.2h0M206.7 513.3h0M206 513.5h0M206.7 513.5h0M208 512.8h0M207.7 512h0M208.2 512.8h0M208.6 513.1h0M209.7 512.5h0M211.7 512.4h0M212 513.1h0M210.9 511.1h0M211.9 511.4h0M211.9 510.8h0M213.2 511.9h0M212.4 511.5h0M213.5 511.2h0M215.1 511.9h0M215.5 511.7h0M216.7 511.1h0M216.5 509.5h0M215.7 511h0M215.8 510h0M218.1 509.6h0M218.5 510.9h0M218 510.2h0M218.5 509h0M219.3 510.1h0M221.1 509.5h0M220.8 509.3h0M220.5 508.5h0M222.4 508.4h0M222.6 509.4h0M223.4 509.4h0M222 507.2h0M222.2 507.5h0M222.8 506.5h0M223.1 507.2h0M224.2 507.4h0M224.2 506.1h0M225.2 506.2h0M225.8 503.9h0M225.4 503.9h0M227.2 503.5h0M227.2 503.6h0M225.7 503.1h0M226.4 501.9h0M227.2 502.5h0M227.4 500.8h0M227.4 501.4h0M228.4 501h0M227.7 500.6h0M227.8 500.3h0M229 498.6h0M229.9 498h0M230.5 497.4h0M229 498.3h0M228.5 498h0M227.9 497.3h0M228.6 496.8h0M229.4 496.7h0M229.3 495.1h0M228.7 495.5h0M228.9 495.5h0M228.5 493.4h0M227.7 494h0M228.6 493.2h0M226.5 493.6h0M227.1 491.6h0M228 490.4h0M228.5 491.9h0M227.1 490.1h0M226.7 489.7h0M228 489.7h0M227.6 489.1h0M226.6 487.5h0M227 488h0M225.6 487.8h0M225.3 486.4h0M225.1 487.5h0M224.4 487.8h0M224 486.2h0M223.6 487.1h0M224.7 487h0M223.7 485.5h0M221.7 487.3h0M221.9 485.9h0M220.3 486.7h0M222.3 486.8h0M220.3 486.7h0M220.1 486.5h0M218.7 486.2h0M218.1 485.9h0M219.5 483.7h0M217.4 483.6h0M217 483.6h0M218 483h0M216.4 483.4h0M217.5 484.1h0M214.5 483.9h0M214.6 483.9h0M215 482h0M213.2 483.2h0M213.2 481.8h0M213.2 482.2h0M212.5 481.3h0M213.2 482h0M212.4 482.4h0M212.3 481.3h0M210.7 482.2h0M210.3 482.1h0M210.6 481.4h0M208.1 481.3h0M208 480.9h0M207.1 479.8h0M208.7 479.9h0M208.1 481h0M207.3 481.2h0M205.3 479.7h0M206.4 480h0M206 481.1h0M205.1 480.5h0M203.8 480.2h0M203.2 482.4h0M203.8 482.9h0M203.8 481.2h0M203.4 483.1h0M202.5 482.5h0M201.4 482.5h0M202.3 482.9h0M201.4 483.6h0M200.2 484.4h0M199.2 485.9h0M200.9 486h0M200.6 485.8h0M199.4 486.9h0M197.6 485.1h0M197.7 485.8h0M198.3 487.5h0M196.2 486.6h0M196.5 486.9h0M196.7 488.6h0M196.5 488h0M196.2 488.3h0M195.5 489.1h0M193.9 490h0M194.6 488.8h0M194.5 489.7h0M192.9 490.5h0M193.4 490.8h0M193.6 489.5h0M192.1 491.9h0M190.6 490.6h0M191.8 492.6h0M190.4 491.7h0M189.3 491.4h0M190.3 492.1h0M188.1 493.5h0M188.6 492.1h0M188.2 494.2h0M187.5 494h0M188.6 494.7h0M187.6 494.2h0M185.7 496.1h0M187.5 496h0M185.9 496.5h0M185.2 495.1h0M185.4 495.7h0M185.9 496.2h0M183.9 496.5h0M184 499h0M183.4 499h0M184.7 498h0M182.7 499.2h0M183.9 500.1h0M182.5 500.2h0M182 500.7h0M183.8 502.7h0M182.8 501.8h0M182.1 501.1h0M183.2 501.9h0M181.8 503.1h0M181.5 503.7h0M182.5 503.5h0M181.5 505h0M182.1 506.6h0M181.5 506.5h0M180 505.3h0M181.1 506.9h0M180.1 507.8h0M179.6 507.4h0M180.2 509h0M179.8 508.2h0M179.8 509.3h0M179.6 509h0M179.8 511.2h0M180.2 511.2h0M177.9 511.2h0M178.6 513h0M177.3 511.8h0M177.6 513.6h0M177 513h0M176.9 514.5h0M177 514.6h0M177.8 515.9h0M176.4 516.2h0M178 516.7h0M176.7 515.7h0M178 516.9h0M177.9 518h0M175.8 518.1h0M177.6 518.6h0M175.6 518.4h0M176.9 519.4h0M176.4 520.8h0M176.8 520.5h0M219.3 475h0M224.6 472.1h0M215.2 479.8h0M241.4 485.5h0M238.2 487.6h0M241.4 487.6h0M235.7 491.8h0M229.8 484h0M230.9 499.3h0M237.9 458.7h0M243.1 456.6h0M247.7 454.2h0" stroke="#000" stroke-width="4.2" stroke-linecap="round" fill="none"/>
<path d="M222.4 500.2L222.4 499.4L216.9 490.3L210.9 483.3L206.1 480.9L200.5 487.2L192.1 493.5L190 495.6L207.2 512.9L213.3 510.8L220.1 506Z" fill="#16ec2c" fill-opacity="0.1"/>
<path d="M219.2 501.6L219.4 499.5L218.9 497.4L214.7 488.5L210.7 483.2L206.1 480.9L200.5 487.2L192.1 493.5L190 495.6L207.2 512.9L213.3 510.8L218 507.5Z" fill="#16ec2c" fill-opacity="0.1"/>
<path d="M214.8 509.7L216.8 501L216.6 498.3L212.5 489.8L209.1 485.1L208 484.1L206.7 483.4L204.1 483.2L200.5 487.2L192.1 493.5L190 495.6L207.2 512.9L213.3 510.8Z" fill="#16ec2c" fill-opacity="0.1"/>
<path d="M211.9 509.2L212.8 507.7L214.3 500.5L214.3 499.4L210.4 491.1L206.3 486L204.8 485.7L201.4 486.2L200.4 487.3L192.1 493.5L190 495.6L207.2 512.9Z" fill="#16ec2c" fill-opacity="0.1"/>
<path d="M179.7 520.8L197.6 513.1L204.4 509.4L208.6 506.1L209.8 500.3L206.6 493.4L204.2 490.3L200.9 490.8L191.4 497.3L186.4 501.8L181.1 507.1L179.5 510.1L178.1 513.7L176.2 520.9Z" fill="#16ec2c"/>
<path d="M188.5 516.7h0M188.9 517.3h0M190 516.6h0M190.4 515.7h0M191.7 516h0M190.9 516h0M192.9 514.6h0M193.9 514.7h0M194.5 514.4h0M193.6 514.2h0M195.8 514.3h0M196.3 513.8h0M195.9 513.9h0M198 512.7h0M198.3 513.2h0M199.7 512.4h0M199.2 512.6h0M199.7 511.9h0M200.6 511.2h0M201.6 510.7h0M202 510.6h0M203.3 509.6h0M203.9 509.5h0M204.8 509.8h0M204.5 509.3h0M206.4 508.8h0M205.8 508.4h0M206.4 507.3h0M208 507h0M208.1 506h0M208.6 506.2h0M209.2 505.1h0M208.4 504.2h0M208.8 503.9h0M209.1 503.3h0M209.8 502.1h0M210 500.5h0M209.9 501.1h0M209.8 499.9h0M209.7 499.6h0M209.4 498.5h0M208.9 497.4h0M208.3 496.5h0M208.3 495.7h0M207.7 495.6h0M207.2 494.5h0M206.8 494.4h0M206.9 493.2h0M206.2 492.5h0M204.9 491.7h0M204.7 491.4h0M203.9 490.4h0M203.9 490.1h0M202.7 490.1h0M202.3 490.5h0M202.2 490.6h0M201.2 491.4h0M199.8 491.1h0M199.1 492.3h0M199.2 492.6h0M198.8 492.4h0M197.5 492.7h0M197.4 493.5h0M196.6 494.1h0M195.1 495.1h0M194.9 494.5h0M194.6 494.9h0M193.8 496h0M192.6 496h0M191.7 496.4h0M192.1 496.9h0M190.5 497.1h0M190.6 498.3h0M190.3 498.5h0M189 499.2h0M189.3 499.4h0M188.1 500.3h0M188.3 500.9h0M187.5 501.3h0M186.7 501.3h0M186.5 501.9h0M185.1 502.6h0M184.7 503.5h0M184.5 503.9h0M183.1 504.6h0M183.2 505.6h0M182.6 505.4h0M181.8 506.4h0M181.2 507.1h0M181.5 508h0M180.8 507.5h0M180.6 508.4h0M179.9 509.7h0M179.5 510.4h0M178.8 511h0M179.5 511.7h0M178.6 512.7h0M178.9 512.9h0M178.4 513.6h0M178.2 514.3h0M177.9 515h0M177.4 516.3h0M177 516.5h0M177.3 517.5h0M176.6 518.5h0M176.7 519.5h0M176.1 520.4h0M176.2 520.6h0M177.2 520.7h0M177.6 520.6h0M179.2 520.8h0M179.9 521.1h0M180.6 520.7h0M180.9 520.1h0M181.9 520h0M182.9 520.1h0M182.9 519.7h0M183.7 518.5h0M183.6 518.2h0M185.5 518.6h0M186.1 518.3h0M186.2 517.4h0M187.3 517.8h0" stroke="#16ec2c" stroke-width="4.2" stroke-linecap="round" fill="none"/>
<path d="M218.4 506.2h0M217.5 494.8h0M217.1 494.7h0M194.5 515.5h0M215 500.6h0M213.8 493.8h0M215.9 506.2h0M213.3 487.2h0M212.4 493.2h0M214.7 498h0M215.2 491.9h0M209.5 492.6h0M218.1 502.9h0M213.7 489.9h0M215.2 504.7h0M212.4 491.6h0M214.8 492.4h0M210.6 484.5h0M215.1 508.9h0M214.7 509.8h0M204.9 488.6h0M220.7 502.6h0M190.6 518.4h0M213.7 488.8h0M216 494.7h0M218.9 505.3h0M220.2 497.9h0M208.6 492.9h0M221.4 498.2h0M220.1 505.8h0M214.5 488.7h0M193.8 492.9h0M201.7 485.9h0M212.9 491h0M208.3 497.5h0M212.7 507.5h0M213.2 491.3h0M218.9 505.6h0M205.6 509h0M215.4 502.3h0M219 502.8h0M214.1 487.6h0M208.8 484.8h0M188.3 499.3h0M199.8 489.7h0M201.2 491.1h0M213.4 493.2h0M205.7 510.5h0M205.5 484.7h0M208 485h0M206.7 485h0M209.8 496.6h0M203.5 485.3h0M204.4 486.9h0M186.9 499.9h0M215.3 498.5h0M205.7 484.1h0M209.5 492.9h0M209.7 483.8h0M207.5 487.3h0M218.2 506.7h0M215.7 505.2h0M208.8 511.1h0M214.9 489.4h0M216.1 501.3h0M204.5 483.4h0M208.5 486.7h0M204.3 485.2h0M206.9 483.4h0M191.7 496.3h0" stroke="#031c05" stroke-opacity=".8" stroke-width="1.5" stroke-linecap="round" fill="none"/>
<path d="M210.1 493.4 216.1 493 218.7 509.7 210.4 496.9 212.3 510.5 213.7 502.9 223.8 493.4 214.4 505 199.3 490.4 195.8 493.9 210.3 481.1 211.1 504.3 217.9 497.9 205.5 487 211.5 508.1 202.1 488.2 208.9 507.1 212.9 501.2 219.2 504.7 211.1 506.9 205.3 489.6 209 492.3 203.5 484.7 204.7 484.5 211.1 497.2 217.6 499.1 207.5 484.6 194.2 493.1 208.9 506.9 194.1 492.4 194.2 493.2 207.4 484.8 210.7 496.5 209.8 504.5 200.6 486.9 211.4 483.2 217.1 484.1 214.1 497.9 207.7 491 205.5 483.9 205.9 480.7 214.7 504.2 197 493 219.6 494.9 210.1 508.4 221.6 503.9 218.1 491.3 211.9 502.2 212.7 498.7 207.1 507.5 208.3 496.1 216.4 497.3 207.2 489.5 210.9 482.6 201.8 485.8 215.2 483.4 191.9 495.1 210.7 501.4 216.1 503.3 218.5 488.7 215.9 509.9 211.2 509.8 211.8 498.9 217.6 489.6 213.5 486.4 220.3 497.4 206.2 511.1 209.7 488.8 206.9 481.1 216.1 485.4 190.3 491.6 205.7 487 217.4 505.4 219.6 496.4 216.6 501.2 224.4 498.3 209.5 491.1 196.4 488 210.6 499.3 220.7 506.8 206.7 487.3 209.9 495.8 217.3 504 210.2 502.3 217.7 490.3 209.9 481.9 210.5 483.4 217.5 495.3 215.8 496.9 207.4 491.2 193.9 491.6 212.8 502.5 202.9 489.3 207.4 490.5 213.9 482.4 211 493.8 213.9 506.9 206.3 463 175.9 484 200 477.7 211 475 205.1 477.1 225.6 501.4 222.5 500.8 204.7 429.7 206.4 459.6 206.4 462.6" fill="none" stroke="none" marker-start="url(#m10)" marker-mid="url(#m10)" marker-end="url(#m10)"/>
<text x="167" y="525.8" font-size="7.4" fill="#444" stroke="#444" stroke-width=".22" text-anchor="end">0</text>
<text x="167" y="499.3" font-size="7.4" fill="#444" stroke="#444" stroke-width=".22" text-anchor="end">100</text>
<text x="167" y="472.7" font-size="7.4" fill="#444" stroke="#444" stroke-width=".22" text-anchor="end">200</text>
<text x="167" y="446.2" font-size="7.4" fill="#444" stroke="#444" stroke-width=".22" text-anchor="end">300</text>
<text x="167" y="419.6" font-size="7.4" fill="#444" stroke="#444" stroke-width=".22" text-anchor="end">400</text>
<text transform="translate(175.1 528.4) rotate(-90)" font-size="6.8" fill="#444" stroke="#444" stroke-width=".22" text-anchor="end">0</text>
<text transform="translate(201.5 528.4) rotate(-90)" font-size="6.8" fill="#444" stroke="#444" stroke-width=".22" text-anchor="end">100</text>
<text transform="translate(227.9 528.4) rotate(-90)" font-size="6.8" fill="#444" stroke="#444" stroke-width=".22" text-anchor="end">200</text>
<text transform="translate(254.2 528.4) rotate(-90)" font-size="6.8" fill="#444" stroke="#444" stroke-width=".22" text-anchor="end">300</text>
<text transform="translate(280.6 528.4) rotate(-90)" font-size="6.8" fill="#444" stroke="#444" stroke-width=".22" text-anchor="end">400</text>
<text x="177.9" y="543.1" font-size="6.4" font-weight="bold" fill="#222" stroke="#222" stroke-width=".18" textLength="87.7" lengthAdjust="spacingAndGlyphs">Measured Streamflow (cms)</text>
<text transform="translate(155.1 510.5) rotate(-90)" font-size="6" font-weight="bold" fill="#222" stroke="#222" stroke-width=".18" textLength="83.7" lengthAdjust="spacingAndGlyphs">Predicted Streamflow (cms)</text>
<text x="270.7" y="516.2" font-size="7.4" font-weight="bold" fill="#222" stroke="#222" stroke-width=".18" text-anchor="end" textLength="19.2" lengthAdjust="spacingAndGlyphs">DL10</text>
<circle cx="178.5" cy="422.7" r="2.2" fill="#000"/>
<text x="182.9" y="425.4" font-size="7.1" fill="#262626" stroke="#262626" stroke-width=".25" textLength="15.8" lengthAdjust="spacingAndGlyphs">Train</text>
<circle cx="202.9" cy="422.9" r="1.9" fill="none" stroke="#9deaa6" stroke-width=".8"/>
<text x="207.2" y="425.4" font-size="7.1" fill="#262626" stroke="#262626" stroke-width=".25" textLength="12.1" lengthAdjust="spacingAndGlyphs">Test</text>
</g>
</svg>
</body></html>
